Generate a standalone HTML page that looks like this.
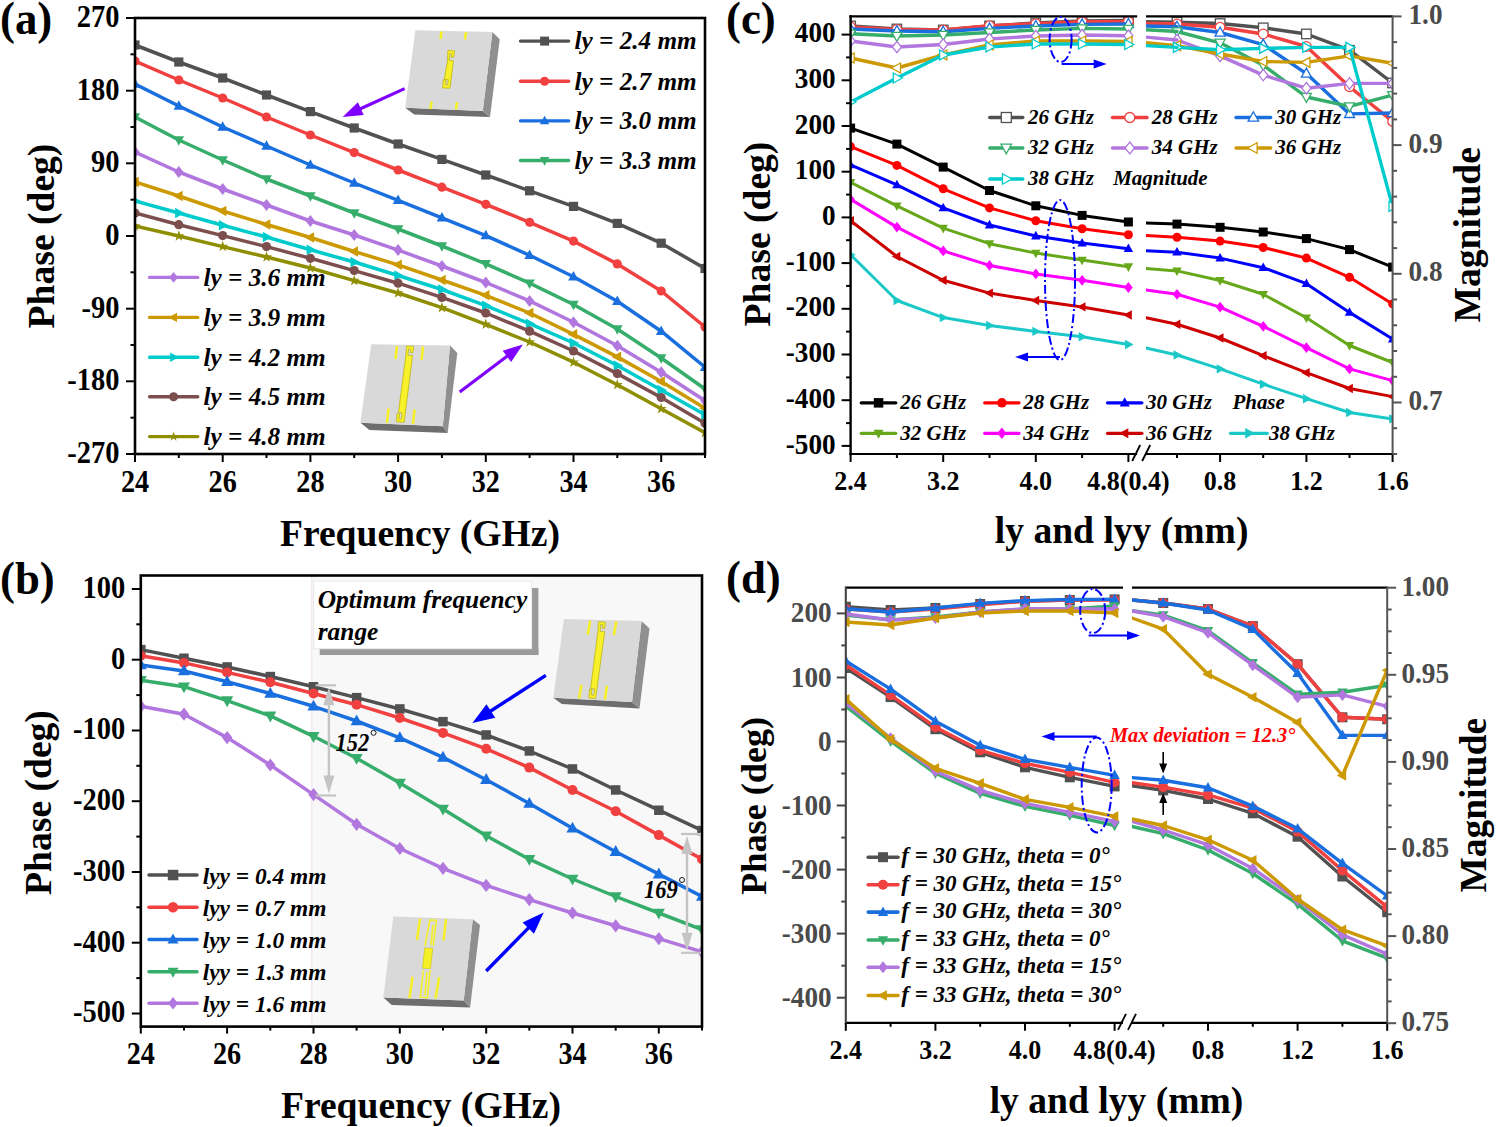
<!DOCTYPE html><html><head><meta charset="utf-8"><style>html,body{margin:0;padding:0;background:#fff;overflow:hidden}svg{display:block}text{font-family:"Liberation Serif",serif}</style></head><body>
<svg width="1496" height="1127" viewBox="0 0 1496 1127">
<rect width="1496" height="1127" fill="#fff"/>
<clipPath id="ca"><rect x="135" y="18" width="570" height="436"/></clipPath><g clip-path="url(#ca)">
<polyline points="135.0,45.0 178.8,62.0 222.7,78.0 266.5,95.0 310.4,111.6 354.2,128.0 398.1,144.0 441.9,159.4 485.8,175.0 529.6,190.8 573.5,206.4 617.3,223.4 661.2,243.2 705.0,268.5" fill="none" stroke="#515151" stroke-width="3.5" stroke-linejoin="round" stroke-linecap="round" />
<rect x="130.4" y="40.4" width="9.2" height="9.2" fill="#515151" stroke="none"/>
<rect x="174.2" y="57.4" width="9.2" height="9.2" fill="#515151" stroke="none"/>
<rect x="218.1" y="73.4" width="9.2" height="9.2" fill="#515151" stroke="none"/>
<rect x="261.9" y="90.4" width="9.2" height="9.2" fill="#515151" stroke="none"/>
<rect x="305.8" y="107.0" width="9.2" height="9.2" fill="#515151" stroke="none"/>
<rect x="349.6" y="123.4" width="9.2" height="9.2" fill="#515151" stroke="none"/>
<rect x="393.5" y="139.4" width="9.2" height="9.2" fill="#515151" stroke="none"/>
<rect x="437.3" y="154.8" width="9.2" height="9.2" fill="#515151" stroke="none"/>
<rect x="481.2" y="170.4" width="9.2" height="9.2" fill="#515151" stroke="none"/>
<rect x="525.0" y="186.2" width="9.2" height="9.2" fill="#515151" stroke="none"/>
<rect x="568.9" y="201.8" width="9.2" height="9.2" fill="#515151" stroke="none"/>
<rect x="612.7" y="218.8" width="9.2" height="9.2" fill="#515151" stroke="none"/>
<rect x="656.6" y="238.6" width="9.2" height="9.2" fill="#515151" stroke="none"/>
<rect x="700.4" y="263.9" width="9.2" height="9.2" fill="#515151" stroke="none"/>
<polyline points="135.0,61.0 178.8,80.0 222.7,98.0 266.5,117.0 310.4,135.0 354.2,152.6 398.1,170.0 441.9,187.2 485.8,204.3 529.6,222.3 573.5,241.1 617.3,263.9 661.2,291.0 705.0,327.0" fill="none" stroke="#F14040" stroke-width="3.5" stroke-linejoin="round" stroke-linecap="round" />
<circle cx="135.0" cy="61.0" r="4.6" fill="#F14040" stroke="none"/>
<circle cx="178.8" cy="80.0" r="4.6" fill="#F14040" stroke="none"/>
<circle cx="222.7" cy="98.0" r="4.6" fill="#F14040" stroke="none"/>
<circle cx="266.5" cy="117.0" r="4.6" fill="#F14040" stroke="none"/>
<circle cx="310.4" cy="135.0" r="4.6" fill="#F14040" stroke="none"/>
<circle cx="354.2" cy="152.6" r="4.6" fill="#F14040" stroke="none"/>
<circle cx="398.1" cy="170.0" r="4.6" fill="#F14040" stroke="none"/>
<circle cx="441.9" cy="187.2" r="4.6" fill="#F14040" stroke="none"/>
<circle cx="485.8" cy="204.3" r="4.6" fill="#F14040" stroke="none"/>
<circle cx="529.6" cy="222.3" r="4.6" fill="#F14040" stroke="none"/>
<circle cx="573.5" cy="241.1" r="4.6" fill="#F14040" stroke="none"/>
<circle cx="617.3" cy="263.9" r="4.6" fill="#F14040" stroke="none"/>
<circle cx="661.2" cy="291.0" r="4.6" fill="#F14040" stroke="none"/>
<circle cx="705.0" cy="327.0" r="4.6" fill="#F14040" stroke="none"/>
<polyline points="135.0,84.0 178.8,106.0 222.7,127.0 266.5,146.0 310.4,165.0 354.2,183.0 398.1,200.3 441.9,217.8 485.8,235.6 529.6,255.3 573.5,276.7 617.3,301.3 661.2,331.2 705.0,367.2" fill="none" stroke="#1A6FDF" stroke-width="3.5" stroke-linejoin="round" stroke-linecap="round" />
<polygon points="135.0,78.2 140.2,87.8 129.8,87.8" fill="#1A6FDF" stroke="none"/>
<polygon points="178.8,100.2 184.1,109.8 173.6,109.8" fill="#1A6FDF" stroke="none"/>
<polygon points="222.7,121.2 227.9,130.8 217.4,130.8" fill="#1A6FDF" stroke="none"/>
<polygon points="266.5,140.2 271.8,149.8 261.3,149.8" fill="#1A6FDF" stroke="none"/>
<polygon points="310.4,159.2 315.6,168.8 305.1,168.8" fill="#1A6FDF" stroke="none"/>
<polygon points="354.2,177.2 359.5,186.8 349.0,186.8" fill="#1A6FDF" stroke="none"/>
<polygon points="398.1,194.6 403.3,204.1 392.8,204.1" fill="#1A6FDF" stroke="none"/>
<polygon points="441.9,212.1 447.2,221.6 436.7,221.6" fill="#1A6FDF" stroke="none"/>
<polygon points="485.8,229.8 491.0,239.3 480.5,239.3" fill="#1A6FDF" stroke="none"/>
<polygon points="529.6,249.6 534.9,259.1 524.4,259.1" fill="#1A6FDF" stroke="none"/>
<polygon points="573.5,270.9 578.7,280.4 568.2,280.4" fill="#1A6FDF" stroke="none"/>
<polygon points="617.3,295.6 622.6,305.1 612.1,305.1" fill="#1A6FDF" stroke="none"/>
<polygon points="661.2,325.4 666.4,334.9 655.9,334.9" fill="#1A6FDF" stroke="none"/>
<polygon points="705.0,361.4 710.2,370.9 699.8,370.9" fill="#1A6FDF" stroke="none"/>
<polyline points="135.0,117.0 178.8,140.0 222.7,160.0 266.5,179.0 310.4,196.0 354.2,213.0 398.1,229.0 441.9,246.0 485.8,263.9 529.6,283.1 573.5,304.5 617.3,329.0 661.2,358.0 705.0,389.0" fill="none" stroke="#37AD6B" stroke-width="3.5" stroke-linejoin="round" stroke-linecap="round" />
<polygon points="135.0,122.8 140.2,113.2 129.8,113.2" fill="#37AD6B" stroke="none"/>
<polygon points="178.8,145.8 184.1,136.2 173.6,136.2" fill="#37AD6B" stroke="none"/>
<polygon points="222.7,165.8 227.9,156.2 217.4,156.2" fill="#37AD6B" stroke="none"/>
<polygon points="266.5,184.8 271.8,175.2 261.3,175.2" fill="#37AD6B" stroke="none"/>
<polygon points="310.4,201.8 315.6,192.2 305.1,192.2" fill="#37AD6B" stroke="none"/>
<polygon points="354.2,218.8 359.5,209.2 349.0,209.2" fill="#37AD6B" stroke="none"/>
<polygon points="398.1,234.8 403.3,225.2 392.8,225.2" fill="#37AD6B" stroke="none"/>
<polygon points="441.9,251.8 447.2,242.2 436.7,242.2" fill="#37AD6B" stroke="none"/>
<polygon points="485.8,269.6 491.0,260.1 480.5,260.1" fill="#37AD6B" stroke="none"/>
<polygon points="529.6,288.9 534.9,279.4 524.4,279.4" fill="#37AD6B" stroke="none"/>
<polygon points="573.5,310.2 578.7,300.8 568.2,300.8" fill="#37AD6B" stroke="none"/>
<polygon points="617.3,334.8 622.6,325.2 612.1,325.2" fill="#37AD6B" stroke="none"/>
<polygon points="661.2,363.8 666.4,354.2 655.9,354.2" fill="#37AD6B" stroke="none"/>
<polygon points="705.0,394.8 710.2,385.2 699.8,385.2" fill="#37AD6B" stroke="none"/>
<polyline points="135.0,152.0 178.8,172.0 222.7,189.0 266.5,205.0 310.4,221.0 354.2,235.0 398.1,250.1 441.9,266.0 485.8,282.5 529.6,300.9 573.5,322.2 617.3,345.8 661.2,372.3 705.0,400.7" fill="none" stroke="#B177DE" stroke-width="3.5" stroke-linejoin="round" stroke-linecap="round" />
<polygon points="135.0,146.0 139.8,152.0 135.0,158.0 130.2,152.0" fill="#B177DE" stroke="none"/>
<polygon points="178.8,166.0 183.6,172.0 178.8,178.0 174.1,172.0" fill="#B177DE" stroke="none"/>
<polygon points="222.7,183.0 227.4,189.0 222.7,195.0 217.9,189.0" fill="#B177DE" stroke="none"/>
<polygon points="266.5,199.0 271.3,205.0 266.5,211.0 261.8,205.0" fill="#B177DE" stroke="none"/>
<polygon points="310.4,215.0 315.1,221.0 310.4,227.0 305.6,221.0" fill="#B177DE" stroke="none"/>
<polygon points="354.2,229.0 359.0,235.0 354.2,241.0 349.5,235.0" fill="#B177DE" stroke="none"/>
<polygon points="398.1,244.1 402.8,250.1 398.1,256.1 393.3,250.1" fill="#B177DE" stroke="none"/>
<polygon points="441.9,260.0 446.7,266.0 441.9,272.0 437.2,266.0" fill="#B177DE" stroke="none"/>
<polygon points="485.8,276.5 490.5,282.5 485.8,288.5 481.0,282.5" fill="#B177DE" stroke="none"/>
<polygon points="529.6,294.9 534.4,300.9 529.6,306.9 524.9,300.9" fill="#B177DE" stroke="none"/>
<polygon points="573.5,316.2 578.2,322.2 573.5,328.2 568.7,322.2" fill="#B177DE" stroke="none"/>
<polygon points="617.3,339.8 622.1,345.8 617.3,351.8 612.6,345.8" fill="#B177DE" stroke="none"/>
<polygon points="661.2,366.3 665.9,372.3 661.2,378.3 656.4,372.3" fill="#B177DE" stroke="none"/>
<polygon points="705.0,394.7 709.8,400.7 705.0,406.7 700.2,400.7" fill="#B177DE" stroke="none"/>
<polyline points="135.0,182.0 178.8,196.0 222.7,211.0 266.5,224.5 310.4,237.5 354.2,251.5 398.1,264.8 441.9,280.0 485.8,295.3 529.6,313.0 573.5,334.4 617.3,356.9 661.2,381.5 705.0,408.2" fill="none" stroke="#CC9900" stroke-width="3.5" stroke-linejoin="round" stroke-linecap="round" />
<polygon points="129.2,182.0 138.8,176.8 138.8,187.2" fill="#CC9900" stroke="none"/>
<polygon points="173.1,196.0 182.6,190.8 182.6,201.2" fill="#CC9900" stroke="none"/>
<polygon points="216.9,211.0 226.4,205.8 226.4,216.2" fill="#CC9900" stroke="none"/>
<polygon points="260.8,224.5 270.3,219.2 270.3,229.8" fill="#CC9900" stroke="none"/>
<polygon points="304.6,237.5 314.1,232.2 314.1,242.8" fill="#CC9900" stroke="none"/>
<polygon points="348.5,251.5 358.0,246.2 358.0,256.8" fill="#CC9900" stroke="none"/>
<polygon points="392.3,264.8 401.8,259.6 401.8,270.1" fill="#CC9900" stroke="none"/>
<polygon points="436.2,280.0 445.7,274.8 445.7,285.2" fill="#CC9900" stroke="none"/>
<polygon points="480.0,295.3 489.5,290.1 489.5,300.6" fill="#CC9900" stroke="none"/>
<polygon points="523.9,313.0 533.4,307.8 533.4,318.2" fill="#CC9900" stroke="none"/>
<polygon points="567.7,334.4 577.2,329.1 577.2,339.6" fill="#CC9900" stroke="none"/>
<polygon points="611.6,356.9 621.1,351.6 621.1,362.1" fill="#CC9900" stroke="none"/>
<polygon points="655.4,381.5 664.9,376.2 664.9,386.8" fill="#CC9900" stroke="none"/>
<polygon points="699.2,408.2 708.8,402.9 708.8,413.4" fill="#CC9900" stroke="none"/>
<polyline points="135.0,201.0 178.8,213.0 222.7,225.3 266.5,237.0 310.4,249.8 354.2,262.0 398.1,275.5 441.9,289.5 485.8,305.6 529.6,323.7 573.5,343.0 617.3,365.5 661.2,390.0 705.0,414.7" fill="none" stroke="#00CBCC" stroke-width="3.5" stroke-linejoin="round" stroke-linecap="round" />
<polygon points="140.8,201.0 131.2,195.8 131.2,206.2" fill="#00CBCC" stroke="none"/>
<polygon points="184.6,213.0 175.1,207.8 175.1,218.2" fill="#00CBCC" stroke="none"/>
<polygon points="228.4,225.3 218.9,220.1 218.9,230.6" fill="#00CBCC" stroke="none"/>
<polygon points="272.3,237.0 262.8,231.8 262.8,242.2" fill="#00CBCC" stroke="none"/>
<polygon points="316.1,249.8 306.6,244.6 306.6,255.1" fill="#00CBCC" stroke="none"/>
<polygon points="360.0,262.0 350.5,256.8 350.5,267.2" fill="#00CBCC" stroke="none"/>
<polygon points="403.8,275.5 394.3,270.2 394.3,280.8" fill="#00CBCC" stroke="none"/>
<polygon points="447.7,289.5 438.2,284.2 438.2,294.8" fill="#00CBCC" stroke="none"/>
<polygon points="491.5,305.6 482.0,300.4 482.0,310.9" fill="#00CBCC" stroke="none"/>
<polygon points="535.4,323.7 525.9,318.4 525.9,328.9" fill="#00CBCC" stroke="none"/>
<polygon points="579.2,343.0 569.7,337.8 569.7,348.2" fill="#00CBCC" stroke="none"/>
<polygon points="623.1,365.5 613.6,360.2 613.6,370.8" fill="#00CBCC" stroke="none"/>
<polygon points="666.9,390.0 657.4,384.8 657.4,395.2" fill="#00CBCC" stroke="none"/>
<polygon points="710.8,414.7 701.2,409.4 701.2,419.9" fill="#00CBCC" stroke="none"/>
<polyline points="135.0,213.0 178.8,224.7 222.7,235.6 266.5,246.6 310.4,258.3 354.2,270.6 398.1,283.2 441.9,297.4 485.8,313.0 529.6,331.2 573.5,351.0 617.3,373.6 661.2,397.5 705.0,423.2" fill="none" stroke="#7D4E4E" stroke-width="3.5" stroke-linejoin="round" stroke-linecap="round" />
<circle cx="135.0" cy="213.0" r="4.6" fill="#7D4E4E" stroke="none"/>
<circle cx="178.8" cy="224.7" r="4.6" fill="#7D4E4E" stroke="none"/>
<circle cx="222.7" cy="235.6" r="4.6" fill="#7D4E4E" stroke="none"/>
<circle cx="266.5" cy="246.6" r="4.6" fill="#7D4E4E" stroke="none"/>
<circle cx="310.4" cy="258.3" r="4.6" fill="#7D4E4E" stroke="none"/>
<circle cx="354.2" cy="270.6" r="4.6" fill="#7D4E4E" stroke="none"/>
<circle cx="398.1" cy="283.2" r="4.6" fill="#7D4E4E" stroke="none"/>
<circle cx="441.9" cy="297.4" r="4.6" fill="#7D4E4E" stroke="none"/>
<circle cx="485.8" cy="313.0" r="4.6" fill="#7D4E4E" stroke="none"/>
<circle cx="529.6" cy="331.2" r="4.6" fill="#7D4E4E" stroke="none"/>
<circle cx="573.5" cy="351.0" r="4.6" fill="#7D4E4E" stroke="none"/>
<circle cx="617.3" cy="373.6" r="4.6" fill="#7D4E4E" stroke="none"/>
<circle cx="661.2" cy="397.5" r="4.6" fill="#7D4E4E" stroke="none"/>
<circle cx="705.0" cy="423.2" r="4.6" fill="#7D4E4E" stroke="none"/>
<polyline points="135.0,226.0 178.8,236.0 222.7,246.6 266.5,257.0 310.4,268.0 354.2,280.6 398.1,293.0 441.9,307.7 485.8,324.4 529.6,342.0 573.5,362.2 617.3,384.7 661.2,408.7 705.0,432.8" fill="none" stroke="#8E8E00" stroke-width="3.5" stroke-linejoin="round" stroke-linecap="round" />
<polygon points="135.0,220.2 136.3,224.2 140.5,224.2 137.1,226.7 138.4,230.7 135.0,228.2 131.6,230.7 132.9,226.7 129.5,224.2 133.7,224.2" fill="#8E8E00" stroke="none"/>
<polygon points="178.8,230.2 180.2,234.2 184.3,234.2 181.0,236.7 182.2,240.7 178.8,238.2 175.5,240.7 176.7,236.7 173.4,234.2 177.5,234.2" fill="#8E8E00" stroke="none"/>
<polygon points="222.7,240.8 224.0,244.8 228.2,244.8 224.8,247.3 226.1,251.3 222.7,248.8 219.3,251.3 220.6,247.3 217.2,244.8 221.4,244.8" fill="#8E8E00" stroke="none"/>
<polygon points="266.5,251.2 267.9,255.2 272.0,255.2 268.7,257.7 269.9,261.7 266.5,259.2 263.2,261.7 264.4,257.7 261.1,255.2 265.2,255.2" fill="#8E8E00" stroke="none"/>
<polygon points="310.4,262.2 311.7,266.2 315.9,266.2 312.5,268.7 313.8,272.7 310.4,270.2 307.0,272.7 308.2,268.7 304.9,266.2 309.1,266.2" fill="#8E8E00" stroke="none"/>
<polygon points="354.2,274.9 355.6,278.8 359.7,278.8 356.4,281.3 357.6,285.3 354.2,282.9 350.9,285.3 352.1,281.3 348.8,278.8 352.9,278.8" fill="#8E8E00" stroke="none"/>
<polygon points="398.1,287.2 399.4,291.2 403.5,291.2 400.2,293.7 401.5,297.7 398.1,295.2 394.7,297.7 395.9,293.7 392.6,291.2 396.8,291.2" fill="#8E8E00" stroke="none"/>
<polygon points="441.9,301.9 443.2,305.9 447.4,305.9 444.1,308.4 445.3,312.4 441.9,309.9 438.5,312.4 439.8,308.4 436.5,305.9 440.6,305.9" fill="#8E8E00" stroke="none"/>
<polygon points="485.8,318.6 487.1,322.6 491.2,322.6 487.9,325.1 489.1,329.1 485.8,326.6 482.4,329.1 483.6,325.1 480.3,322.6 484.4,322.6" fill="#8E8E00" stroke="none"/>
<polygon points="529.6,336.2 530.9,340.2 535.1,340.2 531.8,342.7 533.0,346.7 529.6,344.2 526.2,346.7 527.5,342.7 524.1,340.2 528.3,340.2" fill="#8E8E00" stroke="none"/>
<polygon points="573.5,356.4 574.8,360.4 578.9,360.4 575.6,362.9 576.8,366.9 573.5,364.4 570.1,366.9 571.3,362.9 568.0,360.4 572.1,360.4" fill="#8E8E00" stroke="none"/>
<polygon points="617.3,378.9 618.6,382.9 622.8,382.9 619.4,385.4 620.7,389.4 617.3,386.9 613.9,389.4 615.2,385.4 611.8,382.9 616.0,382.9" fill="#8E8E00" stroke="none"/>
<polygon points="661.2,402.9 662.5,406.9 666.6,406.9 663.3,409.4 664.5,413.4 661.2,410.9 657.8,413.4 659.0,409.4 655.7,406.9 659.8,406.9" fill="#8E8E00" stroke="none"/>
<polygon points="705.0,427.1 706.3,431.0 710.5,431.0 707.1,433.5 708.4,437.5 705.0,435.1 701.6,437.5 702.9,433.5 699.5,431.0 703.7,431.0" fill="#8E8E00" stroke="none"/>
</g>
<rect x="135" y="18" width="570" height="436" fill="none" stroke="#000" stroke-width="2.6"/>
<line x1="135.0" y1="454.0" x2="135.0" y2="462.0" stroke="#000" stroke-width="2" />
<text transform="translate(135.0,492.0) scale(1,1.09)" font-size="28.2" text-anchor="middle" font-weight="bold" font-style="normal" fill="#000" >24</text>
<line x1="178.8" y1="454.0" x2="178.8" y2="458.0" stroke="#000" stroke-width="2" />
<line x1="222.7" y1="454.0" x2="222.7" y2="462.0" stroke="#000" stroke-width="2" />
<text transform="translate(222.7,492.0) scale(1,1.09)" font-size="28.2" text-anchor="middle" font-weight="bold" font-style="normal" fill="#000" >26</text>
<line x1="266.5" y1="454.0" x2="266.5" y2="458.0" stroke="#000" stroke-width="2" />
<line x1="310.4" y1="454.0" x2="310.4" y2="462.0" stroke="#000" stroke-width="2" />
<text transform="translate(310.4,492.0) scale(1,1.09)" font-size="28.2" text-anchor="middle" font-weight="bold" font-style="normal" fill="#000" >28</text>
<line x1="354.2" y1="454.0" x2="354.2" y2="458.0" stroke="#000" stroke-width="2" />
<line x1="398.1" y1="454.0" x2="398.1" y2="462.0" stroke="#000" stroke-width="2" />
<text transform="translate(398.1,492.0) scale(1,1.09)" font-size="28.2" text-anchor="middle" font-weight="bold" font-style="normal" fill="#000" >30</text>
<line x1="441.9" y1="454.0" x2="441.9" y2="458.0" stroke="#000" stroke-width="2" />
<line x1="485.8" y1="454.0" x2="485.8" y2="462.0" stroke="#000" stroke-width="2" />
<text transform="translate(485.8,492.0) scale(1,1.09)" font-size="28.2" text-anchor="middle" font-weight="bold" font-style="normal" fill="#000" >32</text>
<line x1="529.6" y1="454.0" x2="529.6" y2="458.0" stroke="#000" stroke-width="2" />
<line x1="573.5" y1="454.0" x2="573.5" y2="462.0" stroke="#000" stroke-width="2" />
<text transform="translate(573.5,492.0) scale(1,1.09)" font-size="28.2" text-anchor="middle" font-weight="bold" font-style="normal" fill="#000" >34</text>
<line x1="617.3" y1="454.0" x2="617.3" y2="458.0" stroke="#000" stroke-width="2" />
<line x1="661.2" y1="454.0" x2="661.2" y2="462.0" stroke="#000" stroke-width="2" />
<text transform="translate(661.2,492.0) scale(1,1.09)" font-size="28.2" text-anchor="middle" font-weight="bold" font-style="normal" fill="#000" >36</text>
<line x1="705.0" y1="454.0" x2="705.0" y2="458.0" stroke="#000" stroke-width="2" />
<line x1="126.0" y1="18.0" x2="135.0" y2="18.0" stroke="#000" stroke-width="2" />
<text transform="translate(119.5,26.8) scale(1,1.09)" font-size="28.5" text-anchor="end" font-weight="bold" font-style="normal" fill="#000" >270</text>
<line x1="130.5" y1="54.3" x2="135.0" y2="54.3" stroke="#000" stroke-width="2" />
<line x1="126.0" y1="90.7" x2="135.0" y2="90.7" stroke="#000" stroke-width="2" />
<text transform="translate(119.5,99.5) scale(1,1.09)" font-size="28.5" text-anchor="end" font-weight="bold" font-style="normal" fill="#000" >180</text>
<line x1="130.5" y1="127.0" x2="135.0" y2="127.0" stroke="#000" stroke-width="2" />
<line x1="126.0" y1="163.3" x2="135.0" y2="163.3" stroke="#000" stroke-width="2" />
<text transform="translate(119.5,172.1) scale(1,1.09)" font-size="28.5" text-anchor="end" font-weight="bold" font-style="normal" fill="#000" >90</text>
<line x1="130.5" y1="199.7" x2="135.0" y2="199.7" stroke="#000" stroke-width="2" />
<line x1="126.0" y1="236.0" x2="135.0" y2="236.0" stroke="#000" stroke-width="2" />
<text transform="translate(119.5,244.8) scale(1,1.09)" font-size="28.5" text-anchor="end" font-weight="bold" font-style="normal" fill="#000" >0</text>
<line x1="130.5" y1="272.3" x2="135.0" y2="272.3" stroke="#000" stroke-width="2" />
<line x1="126.0" y1="308.7" x2="135.0" y2="308.7" stroke="#000" stroke-width="2" />
<text transform="translate(119.5,317.5) scale(1,1.09)" font-size="28.5" text-anchor="end" font-weight="bold" font-style="normal" fill="#000" >-90</text>
<line x1="130.5" y1="345.0" x2="135.0" y2="345.0" stroke="#000" stroke-width="2" />
<line x1="126.0" y1="381.3" x2="135.0" y2="381.3" stroke="#000" stroke-width="2" />
<text transform="translate(119.5,390.1) scale(1,1.09)" font-size="28.5" text-anchor="end" font-weight="bold" font-style="normal" fill="#000" >-180</text>
<line x1="130.5" y1="417.7" x2="135.0" y2="417.7" stroke="#000" stroke-width="2" />
<line x1="126.0" y1="454.0" x2="135.0" y2="454.0" stroke="#000" stroke-width="2" />
<text transform="translate(119.5,462.8) scale(1,1.09)" font-size="28.5" text-anchor="end" font-weight="bold" font-style="normal" fill="#000" >-270</text>
<text transform="translate(53.5,236.0) rotate(-90) scale(1,1.0)" font-size="37.6" text-anchor="middle" font-weight="bold" font-style="normal" fill="#000" >Phase (deg)</text>
<text transform="translate(420.0,546.0) scale(1,1.0)" font-size="37.6" text-anchor="middle" font-weight="bold" font-style="normal" fill="#000" >Frequency (GHz)</text>
<text transform="translate(0.0,34.0) scale(1,1.04)" font-size="44.8" text-anchor="start" font-weight="bold" font-style="normal" fill="#000" >(a)</text>
<line x1="520.5" y1="41.1" x2="568.6" y2="41.1" stroke="#515151" stroke-width="3.4" stroke-linecap="round"/>
<rect x="540.1" y="36.6" width="9.0" height="9.0" fill="#515151" stroke="none"/>
<text transform="translate(574.5,49.4) scale(1,1.03)" font-size="25.2" text-anchor="start" font-weight="bold" font-style="italic" fill="#000" >ly = 2.4 mm</text>
<line x1="520.5" y1="81.3" x2="568.6" y2="81.3" stroke="#F14040" stroke-width="3.4" stroke-linecap="round"/>
<circle cx="544.6" cy="81.3" r="4.5" fill="#F14040" stroke="none"/>
<text transform="translate(574.5,89.6) scale(1,1.03)" font-size="25.2" text-anchor="start" font-weight="bold" font-style="italic" fill="#000" >ly = 2.7 mm</text>
<line x1="520.5" y1="120.9" x2="568.6" y2="120.9" stroke="#1A6FDF" stroke-width="3.4" stroke-linecap="round"/>
<polygon points="544.6,115.7 549.3,124.3 539.9,124.3" fill="#1A6FDF" stroke="none"/>
<text transform="translate(574.5,129.2) scale(1,1.03)" font-size="25.2" text-anchor="start" font-weight="bold" font-style="italic" fill="#000" >ly = 3.0 mm</text>
<line x1="520.5" y1="160.5" x2="568.6" y2="160.5" stroke="#37AD6B" stroke-width="3.4" stroke-linecap="round"/>
<polygon points="544.6,165.7 549.3,157.1 539.9,157.1" fill="#37AD6B" stroke="none"/>
<text transform="translate(574.5,168.8) scale(1,1.03)" font-size="25.2" text-anchor="start" font-weight="bold" font-style="italic" fill="#000" >ly = 3.3 mm</text>
<line x1="149.6" y1="277.4" x2="197.7" y2="277.4" stroke="#B177DE" stroke-width="3.4" stroke-linecap="round"/>
<polygon points="173.6,272.0 177.9,277.4 173.6,282.8 169.3,277.4" fill="#B177DE" stroke="none"/>
<text transform="translate(203.5,285.7) scale(1,1.03)" font-size="25.2" text-anchor="start" font-weight="bold" font-style="italic" fill="#000" >ly = 3.6 mm</text>
<line x1="149.6" y1="317.4" x2="197.7" y2="317.4" stroke="#CC9900" stroke-width="3.4" stroke-linecap="round"/>
<polygon points="168.4,317.4 177.0,312.7 177.0,322.1" fill="#CC9900" stroke="none"/>
<text transform="translate(203.5,325.7) scale(1,1.03)" font-size="25.2" text-anchor="start" font-weight="bold" font-style="italic" fill="#000" >ly = 3.9 mm</text>
<line x1="149.6" y1="357.2" x2="197.7" y2="357.2" stroke="#00CBCC" stroke-width="3.4" stroke-linecap="round"/>
<polygon points="178.8,357.2 170.2,352.5 170.2,361.9" fill="#00CBCC" stroke="none"/>
<text transform="translate(203.5,365.5) scale(1,1.03)" font-size="25.2" text-anchor="start" font-weight="bold" font-style="italic" fill="#000" >ly = 4.2 mm</text>
<line x1="149.6" y1="396.8" x2="197.7" y2="396.8" stroke="#7D4E4E" stroke-width="3.4" stroke-linecap="round"/>
<circle cx="173.6" cy="396.8" r="4.5" fill="#7D4E4E" stroke="none"/>
<text transform="translate(203.5,405.1) scale(1,1.03)" font-size="25.2" text-anchor="start" font-weight="bold" font-style="italic" fill="#000" >ly = 4.5 mm</text>
<line x1="149.6" y1="436.6" x2="197.7" y2="436.6" stroke="#8E8E00" stroke-width="3.4" stroke-linecap="round"/>
<polygon points="173.6,431.4 174.8,435.0 178.5,435.0 175.5,437.2 176.6,440.8 173.6,438.6 170.6,440.8 171.7,437.2 168.7,435.0 172.4,435.0" fill="#8E8E00" stroke="none"/>
<text transform="translate(203.5,444.9) scale(1,1.03)" font-size="25.2" text-anchor="start" font-weight="bold" font-style="italic" fill="#000" >ly = 4.8 mm</text>
<polygon points="405.2,107.8 414.2,114.5 490.0,116.9 482.8,110.9" fill="#6e6e6e"/>
<polygon points="492.4,32.0 499.7,39.3 490.0,116.9 482.8,110.9" fill="#8f8f8f"/>
<polygon points="415.4,30.2 492.4,32.0 482.8,110.9 405.2,107.8" fill="#d9d9d9"/>
<line x1="441.5" y1="31.5" x2="440.5" y2="39" stroke="#f5f02a" stroke-width="2.6" stroke-linecap="butt"/>
<line x1="466" y1="32" x2="465" y2="39.5" stroke="#f5f02a" stroke-width="2.6" stroke-linecap="butt"/>
<line x1="431.5" y1="101.5" x2="430.5" y2="109" stroke="#f5f02a" stroke-width="2.6" stroke-linecap="butt"/>
<line x1="457" y1="102" x2="456" y2="109.5" stroke="#f5f02a" stroke-width="2.6" stroke-linecap="butt"/>
<path d="M447.85,50.39 L454.61,50.92 L453.87,57.16 L451.20,57.16 L451.63,53.75 L449.82,53.75 L449.29,60.51 L453.44,60.78 L449.98,88.22 L442.68,87.95 L443.32,79.69 L445.98,79.96 L445.56,84.75 L447.58,85.02 L448.22,79.53 L444.28,79.32 L447.58,60.25 Z" fill="#f7f02a" stroke="#b9b000" stroke-width="0.7"/>
<line x1="404.6" y1="88.6" x2="359.9" y2="109.0" stroke="#8000ff" stroke-width="3.2" />
<polygon points="342.6,116.9 357.9,102.2 363.7,115.0" fill="#8000ff"/>
<polygon points="360.4,422.7 369.4,429.9 447.7,432.9 442.8,426.3" fill="#6e6e6e"/>
<polygon points="450.0,345.6 457.3,352.9 447.7,432.9 442.8,426.3" fill="#8f8f8f"/>
<polygon points="371.2,344.2 450.0,345.6 442.8,426.3 360.4,422.7" fill="#d9d9d9"/>
<line x1="397" y1="346" x2="395.5" y2="359" stroke="#f5f02a" stroke-width="2.6" stroke-linecap="butt"/>
<line x1="423" y1="346.5" x2="421.5" y2="360" stroke="#f5f02a" stroke-width="2.6" stroke-linecap="butt"/>
<line x1="388.5" y1="408.5" x2="387" y2="423" stroke="#f5f02a" stroke-width="2.6" stroke-linecap="butt"/>
<line x1="414.5" y1="409.5" x2="413" y2="424" stroke="#f5f02a" stroke-width="2.6" stroke-linecap="butt"/>
<path d="M406.55,345.99 L413.73,346.38 L412.93,352.77 L410.38,352.61 L410.86,349.18 L408.62,348.94 L407.98,355.32 L412.53,355.56 L404.15,422.20 L396.57,421.80 L396.97,413.82 L399.53,414.06 L399.05,419.01 L401.44,419.17 L402.08,412.79 L398.41,412.63 L405.91,355.16 Z" fill="#f7f02a" stroke="#b9b000" stroke-width="0.7"/>
<line x1="459.7" y1="392.0" x2="507.7" y2="355.8" stroke="#8000ff" stroke-width="3.2" />
<polygon points="522.9,344.4 511.1,362.0 502.7,350.8" fill="#8000ff"/>
<rect x="311.8" y="575.5" width="390.2" height="451.0999999999999" fill="#f8f8f8"/>
<line x1="311.8" y1="575.5" x2="311.8" y2="1026.6" stroke="#f4e4f4" stroke-width="1.2" />
<rect x="319.7" y="648.6" width="218.7" height="6.4" fill="#9a9a9a"/>
<rect x="531.6" y="588" width="6.8" height="67" fill="#9a9a9a"/>
<rect x="313.6" y="581.1" width="218" height="67.6" fill="#fff" stroke="#e8e8e8" stroke-width="1"/>
<text transform="translate(317.7,607.7) scale(1,1.0)" font-size="25.4" text-anchor="start" font-weight="bold" font-style="italic" fill="#000" >Optimum frequency</text>
<text transform="translate(317.7,640.4) scale(1,1.0)" font-size="25.4" text-anchor="start" font-weight="bold" font-style="italic" fill="#000" >range</text>
<clipPath id="cb"><rect x="140.8" y="575.5" width="561.2" height="451.0999999999999"/></clipPath><g clip-path="url(#cb)">
<polyline points="140.8,649.6 184.0,658.2 227.1,667.0 270.3,676.5 313.5,686.7 356.6,697.6 399.8,709.0 443.0,721.6 486.2,735.0 529.3,751.0 572.5,769.0 615.7,790.0 658.8,810.2 702.0,830.5" fill="none" stroke="#515151" stroke-width="3.5" stroke-linejoin="round" stroke-linecap="round" />
<rect x="136.1" y="644.9" width="9.5" height="9.5" fill="#515151" stroke="none"/>
<rect x="179.2" y="653.5" width="9.5" height="9.5" fill="#515151" stroke="none"/>
<rect x="222.4" y="662.2" width="9.5" height="9.5" fill="#515151" stroke="none"/>
<rect x="265.6" y="671.8" width="9.5" height="9.5" fill="#515151" stroke="none"/>
<rect x="308.7" y="682.0" width="9.5" height="9.5" fill="#515151" stroke="none"/>
<rect x="351.9" y="692.9" width="9.5" height="9.5" fill="#515151" stroke="none"/>
<rect x="395.1" y="704.2" width="9.5" height="9.5" fill="#515151" stroke="none"/>
<rect x="438.2" y="716.9" width="9.5" height="9.5" fill="#515151" stroke="none"/>
<rect x="481.4" y="730.2" width="9.5" height="9.5" fill="#515151" stroke="none"/>
<rect x="524.6" y="746.2" width="9.5" height="9.5" fill="#515151" stroke="none"/>
<rect x="567.7" y="764.2" width="9.5" height="9.5" fill="#515151" stroke="none"/>
<rect x="610.9" y="785.2" width="9.5" height="9.5" fill="#515151" stroke="none"/>
<rect x="654.1" y="805.5" width="9.5" height="9.5" fill="#515151" stroke="none"/>
<rect x="697.2" y="825.8" width="9.5" height="9.5" fill="#515151" stroke="none"/>
<polyline points="140.8,655.7 184.0,662.9 227.1,672.4 270.3,682.2 313.5,693.5 356.6,704.7 399.8,718.0 443.0,732.9 486.2,748.8 529.3,767.6 572.5,790.0 615.7,811.3 658.8,835.1 702.0,859.2" fill="none" stroke="#F14040" stroke-width="3.5" stroke-linejoin="round" stroke-linecap="round" />
<circle cx="140.8" cy="655.7" r="5.0" fill="#F14040" stroke="none"/>
<circle cx="184.0" cy="662.9" r="5.0" fill="#F14040" stroke="none"/>
<circle cx="227.1" cy="672.4" r="5.0" fill="#F14040" stroke="none"/>
<circle cx="270.3" cy="682.2" r="5.0" fill="#F14040" stroke="none"/>
<circle cx="313.5" cy="693.5" r="5.0" fill="#F14040" stroke="none"/>
<circle cx="356.6" cy="704.7" r="5.0" fill="#F14040" stroke="none"/>
<circle cx="399.8" cy="718.0" r="5.0" fill="#F14040" stroke="none"/>
<circle cx="443.0" cy="732.9" r="5.0" fill="#F14040" stroke="none"/>
<circle cx="486.2" cy="748.8" r="5.0" fill="#F14040" stroke="none"/>
<circle cx="529.3" cy="767.6" r="5.0" fill="#F14040" stroke="none"/>
<circle cx="572.5" cy="790.0" r="5.0" fill="#F14040" stroke="none"/>
<circle cx="615.7" cy="811.3" r="5.0" fill="#F14040" stroke="none"/>
<circle cx="658.8" cy="835.1" r="5.0" fill="#F14040" stroke="none"/>
<circle cx="702.0" cy="859.2" r="5.0" fill="#F14040" stroke="none"/>
<polyline points="140.8,664.9 184.0,671.0 227.1,681.8 270.3,693.5 313.5,706.3 356.6,721.0 399.8,737.8 443.0,757.4 486.2,779.7 529.3,803.5 572.5,828.3 615.7,851.7 658.8,874.1 702.0,896.5" fill="none" stroke="#1A6FDF" stroke-width="3.5" stroke-linejoin="round" stroke-linecap="round" />
<polygon points="140.8,658.3 146.8,669.2 134.8,669.2" fill="#1A6FDF" stroke="none"/>
<polygon points="184.0,664.4 190.0,675.3 177.9,675.3" fill="#1A6FDF" stroke="none"/>
<polygon points="227.1,675.2 233.2,686.1 221.1,686.1" fill="#1A6FDF" stroke="none"/>
<polygon points="270.3,686.9 276.3,697.8 264.3,697.8" fill="#1A6FDF" stroke="none"/>
<polygon points="313.5,699.7 319.5,710.6 307.4,710.6" fill="#1A6FDF" stroke="none"/>
<polygon points="356.6,714.4 362.7,725.3 350.6,725.3" fill="#1A6FDF" stroke="none"/>
<polygon points="399.8,731.2 405.9,742.1 393.8,742.1" fill="#1A6FDF" stroke="none"/>
<polygon points="443.0,750.8 449.0,761.7 436.9,761.7" fill="#1A6FDF" stroke="none"/>
<polygon points="486.2,773.1 492.2,784.0 480.1,784.0" fill="#1A6FDF" stroke="none"/>
<polygon points="529.3,796.9 535.4,807.8 523.3,807.8" fill="#1A6FDF" stroke="none"/>
<polygon points="572.5,821.7 578.5,832.6 566.5,832.6" fill="#1A6FDF" stroke="none"/>
<polygon points="615.7,845.1 621.7,856.0 609.6,856.0" fill="#1A6FDF" stroke="none"/>
<polygon points="658.8,867.5 664.9,878.4 652.8,878.4" fill="#1A6FDF" stroke="none"/>
<polygon points="702.0,889.9 708.0,900.8 696.0,900.8" fill="#1A6FDF" stroke="none"/>
<polyline points="140.8,680.2 184.0,686.7 227.1,700.6 270.3,715.9 313.5,736.3 356.6,758.2 399.8,783.1 443.0,809.0 486.2,835.8 529.3,859.2 572.5,879.0 615.7,896.5 658.8,913.0 702.0,929.5" fill="none" stroke="#37AD6B" stroke-width="3.5" stroke-linejoin="round" stroke-linecap="round" />
<polygon points="140.8,686.8 146.8,675.9 134.8,675.9" fill="#37AD6B" stroke="none"/>
<polygon points="184.0,693.3 190.0,682.4 177.9,682.4" fill="#37AD6B" stroke="none"/>
<polygon points="227.1,707.2 233.2,696.3 221.1,696.3" fill="#37AD6B" stroke="none"/>
<polygon points="270.3,722.5 276.3,711.6 264.3,711.6" fill="#37AD6B" stroke="none"/>
<polygon points="313.5,742.9 319.5,732.0 307.4,732.0" fill="#37AD6B" stroke="none"/>
<polygon points="356.6,764.8 362.7,753.9 350.6,753.9" fill="#37AD6B" stroke="none"/>
<polygon points="399.8,789.7 405.9,778.8 393.8,778.8" fill="#37AD6B" stroke="none"/>
<polygon points="443.0,815.6 449.0,804.7 436.9,804.7" fill="#37AD6B" stroke="none"/>
<polygon points="486.2,842.4 492.2,831.5 480.1,831.5" fill="#37AD6B" stroke="none"/>
<polygon points="529.3,865.8 535.4,854.9 523.3,854.9" fill="#37AD6B" stroke="none"/>
<polygon points="572.5,885.6 578.5,874.7 566.5,874.7" fill="#37AD6B" stroke="none"/>
<polygon points="615.7,903.1 621.7,892.2 609.6,892.2" fill="#37AD6B" stroke="none"/>
<polygon points="658.8,919.6 664.9,908.7 652.8,908.7" fill="#37AD6B" stroke="none"/>
<polygon points="702.0,936.1 708.0,925.2 696.0,925.2" fill="#37AD6B" stroke="none"/>
<polyline points="140.8,706.3 184.0,714.2 227.1,737.6 270.3,765.0 313.5,794.6 356.6,824.3 399.8,848.5 443.0,868.3 486.2,885.4 529.3,899.6 572.5,913.0 615.7,925.8 658.8,938.6 702.0,951.8" fill="none" stroke="#B177DE" stroke-width="3.5" stroke-linejoin="round" stroke-linecap="round" />
<polygon points="140.8,699.7 146.0,706.3 140.8,712.9 135.6,706.3" fill="#B177DE" stroke="none"/>
<polygon points="184.0,707.6 189.2,714.2 184.0,720.8 178.7,714.2" fill="#B177DE" stroke="none"/>
<polygon points="227.1,731.0 232.4,737.6 227.1,744.2 221.9,737.6" fill="#B177DE" stroke="none"/>
<polygon points="270.3,758.4 275.5,765.0 270.3,771.6 265.1,765.0" fill="#B177DE" stroke="none"/>
<polygon points="313.5,788.0 318.7,794.6 313.5,801.2 308.3,794.6" fill="#B177DE" stroke="none"/>
<polygon points="356.6,817.7 361.9,824.3 356.6,830.9 351.4,824.3" fill="#B177DE" stroke="none"/>
<polygon points="399.8,841.9 405.0,848.5 399.8,855.1 394.6,848.5" fill="#B177DE" stroke="none"/>
<polygon points="443.0,861.7 448.2,868.3 443.0,874.9 437.8,868.3" fill="#B177DE" stroke="none"/>
<polygon points="486.2,878.8 491.4,885.4 486.2,892.0 480.9,885.4" fill="#B177DE" stroke="none"/>
<polygon points="529.3,893.0 534.5,899.6 529.3,906.2 524.1,899.6" fill="#B177DE" stroke="none"/>
<polygon points="572.5,906.4 577.7,913.0 572.5,919.6 567.3,913.0" fill="#B177DE" stroke="none"/>
<polygon points="615.7,919.2 620.9,925.8 615.7,932.4 610.4,925.8" fill="#B177DE" stroke="none"/>
<polygon points="658.8,932.0 664.1,938.6 658.8,945.2 653.6,938.6" fill="#B177DE" stroke="none"/>
<polygon points="702.0,945.2 707.2,951.8 702.0,958.4 696.8,951.8" fill="#B177DE" stroke="none"/>
</g>
<rect x="140.8" y="575.5" width="561.2" height="451.1" fill="none" stroke="#000" stroke-width="2.6"/>
<line x1="140.8" y1="1026.6" x2="140.8" y2="1033.6" stroke="#000" stroke-width="2" />
<text transform="translate(140.8,1064.0) scale(1,1.09)" font-size="28.2" text-anchor="middle" font-weight="bold" font-style="normal" fill="#000" >24</text>
<line x1="184.0" y1="1026.6" x2="184.0" y2="1030.6" stroke="#000" stroke-width="2" />
<line x1="227.1" y1="1026.6" x2="227.1" y2="1033.6" stroke="#000" stroke-width="2" />
<text transform="translate(227.1,1064.0) scale(1,1.09)" font-size="28.2" text-anchor="middle" font-weight="bold" font-style="normal" fill="#000" >26</text>
<line x1="270.3" y1="1026.6" x2="270.3" y2="1030.6" stroke="#000" stroke-width="2" />
<line x1="313.5" y1="1026.6" x2="313.5" y2="1033.6" stroke="#000" stroke-width="2" />
<text transform="translate(313.5,1064.0) scale(1,1.09)" font-size="28.2" text-anchor="middle" font-weight="bold" font-style="normal" fill="#000" >28</text>
<line x1="356.6" y1="1026.6" x2="356.6" y2="1030.6" stroke="#000" stroke-width="2" />
<line x1="399.8" y1="1026.6" x2="399.8" y2="1033.6" stroke="#000" stroke-width="2" />
<text transform="translate(399.8,1064.0) scale(1,1.09)" font-size="28.2" text-anchor="middle" font-weight="bold" font-style="normal" fill="#000" >30</text>
<line x1="443.0" y1="1026.6" x2="443.0" y2="1030.6" stroke="#000" stroke-width="2" />
<line x1="486.2" y1="1026.6" x2="486.2" y2="1033.6" stroke="#000" stroke-width="2" />
<text transform="translate(486.2,1064.0) scale(1,1.09)" font-size="28.2" text-anchor="middle" font-weight="bold" font-style="normal" fill="#000" >32</text>
<line x1="529.3" y1="1026.6" x2="529.3" y2="1030.6" stroke="#000" stroke-width="2" />
<line x1="572.5" y1="1026.6" x2="572.5" y2="1033.6" stroke="#000" stroke-width="2" />
<text transform="translate(572.5,1064.0) scale(1,1.09)" font-size="28.2" text-anchor="middle" font-weight="bold" font-style="normal" fill="#000" >34</text>
<line x1="615.7" y1="1026.6" x2="615.7" y2="1030.6" stroke="#000" stroke-width="2" />
<line x1="658.8" y1="1026.6" x2="658.8" y2="1033.6" stroke="#000" stroke-width="2" />
<text transform="translate(658.8,1064.0) scale(1,1.09)" font-size="28.2" text-anchor="middle" font-weight="bold" font-style="normal" fill="#000" >36</text>
<line x1="702.0" y1="1026.6" x2="702.0" y2="1030.6" stroke="#000" stroke-width="2" />
<line x1="131.8" y1="589.0" x2="140.8" y2="589.0" stroke="#000" stroke-width="2" />
<text transform="translate(125.2,597.8) scale(1,1.09)" font-size="28.5" text-anchor="end" font-weight="bold" font-style="normal" fill="#000" >100</text>
<line x1="136.3" y1="624.3" x2="140.8" y2="624.3" stroke="#000" stroke-width="2" />
<line x1="131.8" y1="659.7" x2="140.8" y2="659.7" stroke="#000" stroke-width="2" />
<text transform="translate(125.2,668.5) scale(1,1.09)" font-size="28.5" text-anchor="end" font-weight="bold" font-style="normal" fill="#000" >0</text>
<line x1="136.3" y1="695.1" x2="140.8" y2="695.1" stroke="#000" stroke-width="2" />
<line x1="131.8" y1="730.5" x2="140.8" y2="730.5" stroke="#000" stroke-width="2" />
<text transform="translate(125.2,739.2) scale(1,1.09)" font-size="28.5" text-anchor="end" font-weight="bold" font-style="normal" fill="#000" >-100</text>
<line x1="136.3" y1="765.8" x2="140.8" y2="765.8" stroke="#000" stroke-width="2" />
<line x1="131.8" y1="801.2" x2="140.8" y2="801.2" stroke="#000" stroke-width="2" />
<text transform="translate(125.2,810.0) scale(1,1.09)" font-size="28.5" text-anchor="end" font-weight="bold" font-style="normal" fill="#000" >-200</text>
<line x1="136.3" y1="836.6" x2="140.8" y2="836.6" stroke="#000" stroke-width="2" />
<line x1="131.8" y1="872.0" x2="140.8" y2="872.0" stroke="#000" stroke-width="2" />
<text transform="translate(125.2,880.8) scale(1,1.09)" font-size="28.5" text-anchor="end" font-weight="bold" font-style="normal" fill="#000" >-300</text>
<line x1="136.3" y1="907.3" x2="140.8" y2="907.3" stroke="#000" stroke-width="2" />
<line x1="131.8" y1="942.7" x2="140.8" y2="942.7" stroke="#000" stroke-width="2" />
<text transform="translate(125.2,951.5) scale(1,1.09)" font-size="28.5" text-anchor="end" font-weight="bold" font-style="normal" fill="#000" >-400</text>
<line x1="136.3" y1="978.1" x2="140.8" y2="978.1" stroke="#000" stroke-width="2" />
<line x1="131.8" y1="1013.5" x2="140.8" y2="1013.5" stroke="#000" stroke-width="2" />
<text transform="translate(125.2,1022.2) scale(1,1.09)" font-size="28.5" text-anchor="end" font-weight="bold" font-style="normal" fill="#000" >-500</text>
<text transform="translate(51.1,802.5) rotate(-90) scale(1,1.0)" font-size="37.6" text-anchor="middle" font-weight="bold" font-style="normal" fill="#000" >Phase (deg)</text>
<text transform="translate(421.0,1117.5) scale(1,1.0)" font-size="37.6" text-anchor="middle" font-weight="bold" font-style="normal" fill="#000" >Frequency (GHz)</text>
<text transform="translate(0.0,594.0) scale(1,1.04)" font-size="44.8" text-anchor="start" font-weight="bold" font-style="normal" fill="#000" >(b)</text>
<line x1="149.0" y1="875.0" x2="197.0" y2="875.0" stroke="#515151" stroke-width="3.5" stroke-linecap="round"/>
<rect x="167.8" y="869.8" width="10.5" height="10.5" fill="#515151" stroke="none"/>
<text transform="translate(202.7,883.6) scale(1,1.03)" font-size="23.4" text-anchor="start" font-weight="bold" font-style="italic" fill="#000" >lyy = 0.4 mm</text>
<line x1="149.0" y1="907.3" x2="197.0" y2="907.3" stroke="#F14040" stroke-width="3.5" stroke-linecap="round"/>
<circle cx="173.0" cy="907.3" r="5.2" fill="#F14040" stroke="none"/>
<text transform="translate(202.7,915.9) scale(1,1.03)" font-size="23.4" text-anchor="start" font-weight="bold" font-style="italic" fill="#000" >lyy = 0.7 mm</text>
<line x1="149.0" y1="939.5" x2="197.0" y2="939.5" stroke="#1A6FDF" stroke-width="3.5" stroke-linecap="round"/>
<polygon points="173.0,933.5 178.5,943.4 167.5,943.4" fill="#1A6FDF" stroke="none"/>
<text transform="translate(202.7,948.1) scale(1,1.03)" font-size="23.4" text-anchor="start" font-weight="bold" font-style="italic" fill="#000" >lyy = 1.0 mm</text>
<line x1="149.0" y1="971.7" x2="197.0" y2="971.7" stroke="#37AD6B" stroke-width="3.5" stroke-linecap="round"/>
<polygon points="173.0,977.7 178.5,967.8 167.5,967.8" fill="#37AD6B" stroke="none"/>
<text transform="translate(202.7,980.3) scale(1,1.03)" font-size="23.4" text-anchor="start" font-weight="bold" font-style="italic" fill="#000" >lyy = 1.3 mm</text>
<line x1="149.0" y1="1003.3" x2="197.0" y2="1003.3" stroke="#B177DE" stroke-width="3.5" stroke-linecap="round"/>
<polygon points="173.0,997.0 178.0,1003.3 173.0,1009.6 168.0,1003.3" fill="#B177DE" stroke="none"/>
<text transform="translate(202.7,1011.9) scale(1,1.03)" font-size="23.4" text-anchor="start" font-weight="bold" font-style="italic" fill="#000" >lyy = 1.6 mm</text>
<line x1="315.6" y1="685.3" x2="336.0" y2="685.3" stroke="#c4c4c4" stroke-width="2.2" />
<line x1="315.6" y1="795.5" x2="336.0" y2="795.5" stroke="#c4c4c4" stroke-width="2.2" />
<line x1="328.9" y1="699.3" x2="328.9" y2="781.5" stroke="#c4c4c4" stroke-width="2.4" />
<polygon points="328.9,687.3 334.4,705.3 323.4,705.3" fill="#c4c4c4"/>
<polygon points="328.9,793.5 334.4,775.5 323.4,775.5" fill="#c4c4c4"/>
<line x1="681.0" y1="834.0" x2="701.0" y2="834.0" stroke="#c4c4c4" stroke-width="2.2" />
<line x1="681.0" y1="952.8" x2="701.0" y2="952.8" stroke="#c4c4c4" stroke-width="2.2" />
<line x1="687.0" y1="848.0" x2="687.0" y2="938.8" stroke="#c4c4c4" stroke-width="2.4" />
<polygon points="687,836 692.5,854 681.5,854" fill="#c4c4c4"/>
<polygon points="687,950.8 692.5,932.8 681.5,932.8" fill="#c4c4c4"/>
<text transform="translate(335.5,750.8) scale(1,1.14)" font-size="22.5" text-anchor="start" font-weight="bold" font-style="italic" fill="#000" >152</text>
<circle cx="373.6" cy="732.8" r="2.5" fill="none" stroke="#000" stroke-width="0.9"/>
<text transform="translate(644.0,898.0) scale(1,1.14)" font-size="22.5" text-anchor="start" font-weight="bold" font-style="italic" fill="#000" >169</text>
<circle cx="682" cy="880" r="2.5" fill="none" stroke="#000" stroke-width="0.9"/>
<polygon points="553.3,697.7 561.8,704.1 639.5,708.4 632.0,702.0" fill="#6e6e6e"/>
<polygon points="641.6,621.1 649.5,628.5 639.5,708.4 632.0,702.0" fill="#8f8f8f"/>
<polygon points="563.9,619.0 641.6,621.1 632.0,702.0 553.3,697.7" fill="#d9d9d9"/>
<line x1="590.2" y1="620.8" x2="587.6" y2="634.8" stroke="#f5f02a" stroke-width="2.6" stroke-linecap="butt"/>
<line x1="616.3" y1="621.2" x2="613.8" y2="635.2" stroke="#f5f02a" stroke-width="2.6" stroke-linecap="butt"/>
<line x1="581.3" y1="684.8" x2="579.2" y2="698.5" stroke="#f5f02a" stroke-width="2.6" stroke-linecap="butt"/>
<line x1="607" y1="685.6" x2="604.9" y2="699.7" stroke="#f5f02a" stroke-width="2.6" stroke-linecap="butt"/>
<path d="M598.44,621.75 L605.35,622.17 L604.68,628.49 L602.40,628.32 L602.82,624.70 L600.72,624.44 L600.13,631.44 L604.68,631.69 L595.66,698.47 L588.91,698.05 L589.50,689.20 L591.86,689.37 L591.44,695.10 L593.72,695.27 L594.56,688.78 L590.60,688.36 L597.93,631.19 Z" fill="#f7f02a" stroke="#b9b000" stroke-width="0.7"/>
<line x1="545.8" y1="675.4" x2="490.0" y2="711.5" stroke="#0000ff" stroke-width="3.4" />
<polygon points="472.4,722.9 486.5,704.2 495.2,717.7" fill="#0000ff"/>
<polygon points="383.3,997.4 391.8,1004.9 470.1,1007.6 463.7,1000.6" fill="#6e6e6e"/>
<polygon points="472.8,919.2 480.0,925.0 470.1,1007.6 463.7,1000.6" fill="#8f8f8f"/>
<polygon points="393.4,916.5 472.8,919.2 463.7,1000.6 383.3,997.4" fill="#d9d9d9"/>
<line x1="420" y1="918.6" x2="417" y2="940" stroke="#f5f02a" stroke-width="2.6" stroke-linecap="butt"/>
<line x1="446" y1="919.2" x2="443.5" y2="940.5" stroke="#f5f02a" stroke-width="2.6" stroke-linecap="butt"/>
<line x1="412.6" y1="976.7" x2="409.4" y2="998" stroke="#f5f02a" stroke-width="2.6" stroke-linecap="butt"/>
<line x1="439.2" y1="977.2" x2="435.5" y2="998.5" stroke="#f5f02a" stroke-width="2.6" stroke-linecap="butt"/>
<path d="M424.8,948 L432.8,948.2 L430.4,968.5 L422.4,968.3 Z" fill="#f5f02a" stroke="#c9c400" stroke-width="0.6"/>
<path d="M425,946 L429.8,920 L436.3,920.3 L433.2,945.8 M431,945 L433,924.5" fill="none" stroke="#f5f02a" stroke-width="1.6"/>
<path d="M430,970 L427.5,997.5 L420.2,997.3 L423.4,970.5 M425,995 L427,972" fill="none" stroke="#f5f02a" stroke-width="1.6"/>
<line x1="486.2" y1="971.0" x2="529.0" y2="927.4" stroke="#0000ff" stroke-width="3.4" />
<polygon points="543.7,912.4 534.0,933.7 522.6,922.5" fill="#0000ff"/>
<clipPath id="cc"><rect x="850.6" y="16.4" width="541.9999999999999" height="437.6"/></clipPath><g clip-path="url(#cc)">
<polyline points="850.6,26.0 896.9,29.0 943.2,30.0 989.5,26.0 1035.8,23.0 1082.1,21.0 1128.4,20.5" fill="none" stroke="#515151" stroke-width="3.4" stroke-linejoin="round" stroke-linecap="round" />
<rect x="845.9" y="21.2" width="9.5" height="9.5" fill="#fff" stroke="#515151" stroke-width="1.3"/>
<rect x="892.1" y="24.2" width="9.5" height="9.5" fill="#fff" stroke="#515151" stroke-width="1.3"/>
<rect x="938.5" y="25.2" width="9.5" height="9.5" fill="#fff" stroke="#515151" stroke-width="1.3"/>
<rect x="984.8" y="21.2" width="9.5" height="9.5" fill="#fff" stroke="#515151" stroke-width="1.3"/>
<rect x="1031.0" y="18.2" width="9.5" height="9.5" fill="#fff" stroke="#515151" stroke-width="1.3"/>
<rect x="1077.3" y="16.2" width="9.5" height="9.5" fill="#fff" stroke="#515151" stroke-width="1.3"/>
<rect x="1123.7" y="15.8" width="9.5" height="9.5" fill="#fff" stroke="#515151" stroke-width="1.3"/>
<polyline points="1177.0,22.2 1220.1,23.5 1263.2,27.8 1306.4,34.0 1349.5,50.2 1392.6,83.0" fill="none" stroke="#515151" stroke-width="3.4" stroke-linejoin="round" stroke-linecap="round" />
<rect x="1172.2" y="17.4" width="9.5" height="9.5" fill="#fff" stroke="#515151" stroke-width="1.3"/>
<rect x="1215.4" y="18.8" width="9.5" height="9.5" fill="#fff" stroke="#515151" stroke-width="1.3"/>
<rect x="1258.5" y="23.1" width="9.5" height="9.5" fill="#fff" stroke="#515151" stroke-width="1.3"/>
<rect x="1301.6" y="29.2" width="9.5" height="9.5" fill="#fff" stroke="#515151" stroke-width="1.3"/>
<rect x="1344.7" y="45.5" width="9.5" height="9.5" fill="#fff" stroke="#515151" stroke-width="1.3"/>
<rect x="1387.8" y="78.2" width="9.5" height="9.5" fill="#fff" stroke="#515151" stroke-width="1.3"/>
<polyline points="1146.0,21.6 1177.0,22.2" fill="none" stroke="#515151" stroke-width="3.4" stroke-linejoin="round" stroke-linecap="round" />
<polyline points="850.6,27.0 896.9,29.5 943.2,30.0 989.5,25.6 1035.8,23.6 1082.1,21.6 1128.4,21.5" fill="none" stroke="#F14040" stroke-width="3.4" stroke-linejoin="round" stroke-linecap="round" />
<circle cx="850.6" cy="27.0" r="4.8" fill="#fff" stroke="#F14040" stroke-width="1.3"/>
<circle cx="896.9" cy="29.5" r="4.8" fill="#fff" stroke="#F14040" stroke-width="1.3"/>
<circle cx="943.2" cy="30.0" r="4.8" fill="#fff" stroke="#F14040" stroke-width="1.3"/>
<circle cx="989.5" cy="25.6" r="4.8" fill="#fff" stroke="#F14040" stroke-width="1.3"/>
<circle cx="1035.8" cy="23.6" r="4.8" fill="#fff" stroke="#F14040" stroke-width="1.3"/>
<circle cx="1082.1" cy="21.6" r="4.8" fill="#fff" stroke="#F14040" stroke-width="1.3"/>
<circle cx="1128.4" cy="21.5" r="4.8" fill="#fff" stroke="#F14040" stroke-width="1.3"/>
<polyline points="1177.0,24.0 1220.1,27.2 1263.2,34.0 1306.4,46.5 1349.5,86.7 1392.6,121.4" fill="none" stroke="#F14040" stroke-width="3.4" stroke-linejoin="round" stroke-linecap="round" />
<circle cx="1177.0" cy="24.0" r="4.8" fill="#fff" stroke="#F14040" stroke-width="1.3"/>
<circle cx="1220.1" cy="27.2" r="4.8" fill="#fff" stroke="#F14040" stroke-width="1.3"/>
<circle cx="1263.2" cy="34.0" r="4.8" fill="#fff" stroke="#F14040" stroke-width="1.3"/>
<circle cx="1306.4" cy="46.5" r="4.8" fill="#fff" stroke="#F14040" stroke-width="1.3"/>
<circle cx="1349.5" cy="86.7" r="4.8" fill="#fff" stroke="#F14040" stroke-width="1.3"/>
<circle cx="1392.6" cy="121.4" r="4.8" fill="#fff" stroke="#F14040" stroke-width="1.3"/>
<polyline points="1146.0,23.1 1177.0,24.0" fill="none" stroke="#F14040" stroke-width="3.4" stroke-linejoin="round" stroke-linecap="round" />
<polyline points="850.6,29.0 896.9,31.0 943.2,31.7 989.5,28.4 1035.8,26.0 1082.1,24.4 1128.4,24.0" fill="none" stroke="#1A6FDF" stroke-width="3.4" stroke-linejoin="round" stroke-linecap="round" />
<polygon points="850.6,23.5 855.6,32.6 845.6,32.6" fill="#fff" stroke="#1A6FDF" stroke-width="1.3"/>
<polygon points="896.9,25.5 901.9,34.6 891.9,34.6" fill="#fff" stroke="#1A6FDF" stroke-width="1.3"/>
<polygon points="943.2,26.2 948.2,35.3 938.2,35.3" fill="#fff" stroke="#1A6FDF" stroke-width="1.3"/>
<polygon points="989.5,22.9 994.5,32.0 984.5,32.0" fill="#fff" stroke="#1A6FDF" stroke-width="1.3"/>
<polygon points="1035.8,20.5 1040.8,29.6 1030.8,29.6" fill="#fff" stroke="#1A6FDF" stroke-width="1.3"/>
<polygon points="1082.1,18.9 1087.1,28.0 1077.1,28.0" fill="#fff" stroke="#1A6FDF" stroke-width="1.3"/>
<polygon points="1128.4,18.5 1133.4,27.6 1123.4,27.6" fill="#fff" stroke="#1A6FDF" stroke-width="1.3"/>
<polyline points="1177.0,26.8 1220.1,32.5 1263.2,44.6 1306.4,73.6 1349.5,113.9 1392.6,113.0" fill="none" stroke="#1A6FDF" stroke-width="3.4" stroke-linejoin="round" stroke-linecap="round" />
<polygon points="1177.0,21.3 1182.0,30.4 1172.0,30.4" fill="#fff" stroke="#1A6FDF" stroke-width="1.3"/>
<polygon points="1220.1,27.0 1225.1,36.1 1215.1,36.1" fill="#fff" stroke="#1A6FDF" stroke-width="1.3"/>
<polygon points="1263.2,39.1 1268.2,48.2 1258.3,48.2" fill="#fff" stroke="#1A6FDF" stroke-width="1.3"/>
<polygon points="1306.4,68.1 1311.3,77.2 1301.4,77.2" fill="#fff" stroke="#1A6FDF" stroke-width="1.3"/>
<polygon points="1349.5,108.4 1354.5,117.5 1344.5,117.5" fill="#fff" stroke="#1A6FDF" stroke-width="1.3"/>
<polygon points="1392.6,107.5 1397.6,116.6 1387.6,116.6" fill="#fff" stroke="#1A6FDF" stroke-width="1.3"/>
<polyline points="1146.0,26.0 1177.0,26.8" fill="none" stroke="#1A6FDF" stroke-width="3.4" stroke-linejoin="round" stroke-linecap="round" />
<polyline points="850.6,33.7 896.9,36.0 943.2,35.0 989.5,32.5 1035.8,30.0 1082.1,28.4 1128.4,29.0" fill="none" stroke="#37AD6B" stroke-width="3.4" stroke-linejoin="round" stroke-linecap="round" />
<polygon points="850.6,39.2 855.6,30.1 845.6,30.1" fill="#fff" stroke="#37AD6B" stroke-width="1.3"/>
<polygon points="896.9,41.5 901.9,32.4 891.9,32.4" fill="#fff" stroke="#37AD6B" stroke-width="1.3"/>
<polygon points="943.2,40.5 948.2,31.4 938.2,31.4" fill="#fff" stroke="#37AD6B" stroke-width="1.3"/>
<polygon points="989.5,38.0 994.5,28.9 984.5,28.9" fill="#fff" stroke="#37AD6B" stroke-width="1.3"/>
<polygon points="1035.8,35.5 1040.8,26.4 1030.8,26.4" fill="#fff" stroke="#37AD6B" stroke-width="1.3"/>
<polygon points="1082.1,33.9 1087.1,24.8 1077.1,24.8" fill="#fff" stroke="#37AD6B" stroke-width="1.3"/>
<polygon points="1128.4,34.5 1133.4,25.4 1123.4,25.4" fill="#fff" stroke="#37AD6B" stroke-width="1.3"/>
<polyline points="1177.0,31.5 1220.1,42.8 1263.2,65.2 1306.4,97.0 1349.5,106.4 1392.6,95.2" fill="none" stroke="#37AD6B" stroke-width="3.4" stroke-linejoin="round" stroke-linecap="round" />
<polygon points="1177.0,37.0 1182.0,27.9 1172.0,27.9" fill="#fff" stroke="#37AD6B" stroke-width="1.3"/>
<polygon points="1220.1,48.3 1225.1,39.2 1215.1,39.2" fill="#fff" stroke="#37AD6B" stroke-width="1.3"/>
<polygon points="1263.2,70.7 1268.2,61.6 1258.3,61.6" fill="#fff" stroke="#37AD6B" stroke-width="1.3"/>
<polygon points="1306.4,102.5 1311.3,93.4 1301.4,93.4" fill="#fff" stroke="#37AD6B" stroke-width="1.3"/>
<polygon points="1349.5,111.9 1354.5,102.8 1344.5,102.8" fill="#fff" stroke="#37AD6B" stroke-width="1.3"/>
<polygon points="1392.6,100.7 1397.6,91.6 1387.6,91.6" fill="#fff" stroke="#37AD6B" stroke-width="1.3"/>
<polyline points="1146.0,29.7 1177.0,31.5" fill="none" stroke="#37AD6B" stroke-width="3.4" stroke-linejoin="round" stroke-linecap="round" />
<polyline points="850.6,41.0 896.9,47.0 943.2,44.5 989.5,39.0 1035.8,36.0 1082.1,35.0 1128.4,35.7" fill="none" stroke="#B177DE" stroke-width="3.4" stroke-linejoin="round" stroke-linecap="round" />
<polygon points="850.6,35.3 855.1,41.0 850.6,46.7 846.1,41.0" fill="#fff" stroke="#B177DE" stroke-width="1.3"/>
<polygon points="896.9,41.3 901.4,47.0 896.9,52.7 892.4,47.0" fill="#fff" stroke="#B177DE" stroke-width="1.3"/>
<polygon points="943.2,38.8 947.7,44.5 943.2,50.2 938.7,44.5" fill="#fff" stroke="#B177DE" stroke-width="1.3"/>
<polygon points="989.5,33.3 994.0,39.0 989.5,44.7 985.0,39.0" fill="#fff" stroke="#B177DE" stroke-width="1.3"/>
<polygon points="1035.8,30.3 1040.3,36.0 1035.8,41.7 1031.3,36.0" fill="#fff" stroke="#B177DE" stroke-width="1.3"/>
<polygon points="1082.1,29.3 1086.6,35.0 1082.1,40.7 1077.6,35.0" fill="#fff" stroke="#B177DE" stroke-width="1.3"/>
<polygon points="1128.4,30.0 1132.9,35.7 1128.4,41.4 1123.9,35.7" fill="#fff" stroke="#B177DE" stroke-width="1.3"/>
<polyline points="1177.0,40.0 1220.1,55.9 1263.2,75.1 1306.4,88.2 1349.5,83.4 1392.6,83.4" fill="none" stroke="#B177DE" stroke-width="3.4" stroke-linejoin="round" stroke-linecap="round" />
<polygon points="1177.0,34.3 1181.5,40.0 1177.0,45.7 1172.5,40.0" fill="#fff" stroke="#B177DE" stroke-width="1.3"/>
<polygon points="1220.1,50.2 1224.6,55.9 1220.1,61.6 1215.6,55.9" fill="#fff" stroke="#B177DE" stroke-width="1.3"/>
<polygon points="1263.2,69.4 1267.8,75.1 1263.2,80.8 1258.7,75.1" fill="#fff" stroke="#B177DE" stroke-width="1.3"/>
<polygon points="1306.4,82.5 1310.9,88.2 1306.4,93.9 1301.8,88.2" fill="#fff" stroke="#B177DE" stroke-width="1.3"/>
<polygon points="1349.5,77.7 1354.0,83.4 1349.5,89.1 1345.0,83.4" fill="#fff" stroke="#B177DE" stroke-width="1.3"/>
<polygon points="1392.6,77.7 1397.1,83.4 1392.6,89.1 1388.1,83.4" fill="#fff" stroke="#B177DE" stroke-width="1.3"/>
<polyline points="1146.0,37.1 1177.0,40.0" fill="none" stroke="#B177DE" stroke-width="3.4" stroke-linejoin="round" stroke-linecap="round" />
<polyline points="850.6,58.0 896.9,68.0 943.2,55.0 989.5,45.0 1035.8,41.0 1082.1,41.0 1128.4,41.5" fill="none" stroke="#CC9900" stroke-width="3.4" stroke-linejoin="round" stroke-linecap="round" />
<polygon points="845.1,58.0 854.2,53.0 854.2,63.0" fill="#fff" stroke="#CC9900" stroke-width="1.3"/>
<polygon points="891.4,68.0 900.5,63.0 900.5,73.0" fill="#fff" stroke="#CC9900" stroke-width="1.3"/>
<polygon points="937.7,55.0 946.8,50.0 946.8,60.0" fill="#fff" stroke="#CC9900" stroke-width="1.3"/>
<polygon points="984.0,45.0 993.1,40.0 993.1,50.0" fill="#fff" stroke="#CC9900" stroke-width="1.3"/>
<polygon points="1030.3,41.0 1039.4,36.0 1039.4,46.0" fill="#fff" stroke="#CC9900" stroke-width="1.3"/>
<polygon points="1076.6,41.0 1085.7,36.0 1085.7,46.0" fill="#fff" stroke="#CC9900" stroke-width="1.3"/>
<polygon points="1122.9,41.5 1132.0,36.5 1132.0,46.5" fill="#fff" stroke="#CC9900" stroke-width="1.3"/>
<polyline points="1177.0,45.6 1220.1,54.0 1263.2,61.5 1306.4,62.4 1349.5,55.9 1392.6,63.3" fill="none" stroke="#CC9900" stroke-width="3.4" stroke-linejoin="round" stroke-linecap="round" />
<polygon points="1171.5,45.6 1180.6,40.6 1180.6,50.6" fill="#fff" stroke="#CC9900" stroke-width="1.3"/>
<polygon points="1214.7,54.0 1223.7,49.0 1223.7,59.0" fill="#fff" stroke="#CC9900" stroke-width="1.3"/>
<polygon points="1257.8,61.5 1266.8,56.5 1266.8,66.5" fill="#fff" stroke="#CC9900" stroke-width="1.3"/>
<polygon points="1300.9,62.4 1309.9,57.4 1309.9,67.4" fill="#fff" stroke="#CC9900" stroke-width="1.3"/>
<polygon points="1344.0,55.9 1353.0,50.9 1353.0,60.9" fill="#fff" stroke="#CC9900" stroke-width="1.3"/>
<polygon points="1387.1,63.3 1396.2,58.3 1396.2,68.3" fill="#fff" stroke="#CC9900" stroke-width="1.3"/>
<polyline points="1146.0,42.8 1177.0,45.6" fill="none" stroke="#CC9900" stroke-width="3.4" stroke-linejoin="round" stroke-linecap="round" />
<polyline points="850.6,102.0 896.9,78.0 943.2,55.0 989.5,47.0 1035.8,44.0 1082.1,44.0 1128.4,44.5" fill="none" stroke="#00CBCC" stroke-width="3.4" stroke-linejoin="round" stroke-linecap="round" />
<polygon points="856.1,102.0 847.0,97.0 847.0,107.0" fill="#fff" stroke="#00CBCC" stroke-width="1.3"/>
<polygon points="902.4,78.0 893.3,73.0 893.3,83.0" fill="#fff" stroke="#00CBCC" stroke-width="1.3"/>
<polygon points="948.7,55.0 939.6,50.0 939.6,60.0" fill="#fff" stroke="#00CBCC" stroke-width="1.3"/>
<polygon points="995.0,47.0 985.9,42.0 985.9,52.0" fill="#fff" stroke="#00CBCC" stroke-width="1.3"/>
<polygon points="1041.3,44.0 1032.2,39.0 1032.2,49.0" fill="#fff" stroke="#00CBCC" stroke-width="1.3"/>
<polygon points="1087.6,44.0 1078.5,39.0 1078.5,49.0" fill="#fff" stroke="#00CBCC" stroke-width="1.3"/>
<polygon points="1133.9,44.5 1124.8,39.5 1124.8,49.5" fill="#fff" stroke="#00CBCC" stroke-width="1.3"/>
<polyline points="1177.0,47.4 1220.1,49.7 1263.2,48.4 1306.4,47.4 1349.5,47.4 1392.6,206.5" fill="none" stroke="#00CBCC" stroke-width="3.4" stroke-linejoin="round" stroke-linecap="round" />
<polygon points="1182.5,47.4 1173.4,42.4 1173.4,52.4" fill="#fff" stroke="#00CBCC" stroke-width="1.3"/>
<polygon points="1225.6,49.7 1216.6,44.7 1216.6,54.7" fill="#fff" stroke="#00CBCC" stroke-width="1.3"/>
<polygon points="1268.7,48.4 1259.7,43.4 1259.7,53.4" fill="#fff" stroke="#00CBCC" stroke-width="1.3"/>
<polygon points="1311.8,47.4 1302.8,42.4 1302.8,52.4" fill="#fff" stroke="#00CBCC" stroke-width="1.3"/>
<polygon points="1354.9,47.4 1345.9,42.4 1345.9,52.4" fill="#fff" stroke="#00CBCC" stroke-width="1.3"/>
<polygon points="1398.1,206.5 1389.0,201.5 1389.0,211.5" fill="#fff" stroke="#00CBCC" stroke-width="1.3"/>
<polyline points="1146.0,45.6 1177.0,47.4" fill="none" stroke="#00CBCC" stroke-width="3.4" stroke-linejoin="round" stroke-linecap="round" />
<polyline points="850.6,128.1 896.9,144.1 943.2,167.1 989.5,190.5 1035.8,205.8 1082.1,215.4 1128.4,222.0" fill="none" stroke="#000000" stroke-width="3.0" stroke-linejoin="round" stroke-linecap="round" />
<rect x="846.1" y="123.6" width="9.0" height="9.0" fill="#000000" stroke="none"/>
<rect x="892.4" y="139.6" width="9.0" height="9.0" fill="#000000" stroke="none"/>
<rect x="938.7" y="162.6" width="9.0" height="9.0" fill="#000000" stroke="none"/>
<rect x="985.0" y="186.0" width="9.0" height="9.0" fill="#000000" stroke="none"/>
<rect x="1031.3" y="201.3" width="9.0" height="9.0" fill="#000000" stroke="none"/>
<rect x="1077.6" y="210.9" width="9.0" height="9.0" fill="#000000" stroke="none"/>
<rect x="1123.9" y="217.5" width="9.0" height="9.0" fill="#000000" stroke="none"/>
<polyline points="1146.0,223.0 1177.0,224.1 1220.1,227.3 1263.2,232.0 1306.4,238.6 1349.5,249.6 1392.6,267.1" fill="none" stroke="#000000" stroke-width="3.0" stroke-linejoin="round" stroke-linecap="round" />
<rect x="1172.5" y="219.6" width="9.0" height="9.0" fill="#000000" stroke="none"/>
<rect x="1215.6" y="222.8" width="9.0" height="9.0" fill="#000000" stroke="none"/>
<rect x="1258.7" y="227.5" width="9.0" height="9.0" fill="#000000" stroke="none"/>
<rect x="1301.9" y="234.1" width="9.0" height="9.0" fill="#000000" stroke="none"/>
<rect x="1345.0" y="245.1" width="9.0" height="9.0" fill="#000000" stroke="none"/>
<rect x="1388.1" y="262.6" width="9.0" height="9.0" fill="#000000" stroke="none"/>
<polyline points="850.6,146.6 896.9,165.4 943.2,188.8 989.5,207.9 1035.8,220.7 1082.1,228.8 1128.4,234.8" fill="none" stroke="#FF0000" stroke-width="3.0" stroke-linejoin="round" stroke-linecap="round" />
<circle cx="850.6" cy="146.6" r="4.5" fill="#FF0000" stroke="none"/>
<circle cx="896.9" cy="165.4" r="4.5" fill="#FF0000" stroke="none"/>
<circle cx="943.2" cy="188.8" r="4.5" fill="#FF0000" stroke="none"/>
<circle cx="989.5" cy="207.9" r="4.5" fill="#FF0000" stroke="none"/>
<circle cx="1035.8" cy="220.7" r="4.5" fill="#FF0000" stroke="none"/>
<circle cx="1082.1" cy="228.8" r="4.5" fill="#FF0000" stroke="none"/>
<circle cx="1128.4" cy="234.8" r="4.5" fill="#FF0000" stroke="none"/>
<polyline points="1146.0,235.4 1177.0,237.3 1220.1,241.1 1263.2,247.5 1306.4,258.1 1349.5,277.3 1392.6,303.9" fill="none" stroke="#FF0000" stroke-width="3.0" stroke-linejoin="round" stroke-linecap="round" />
<circle cx="1177.0" cy="237.3" r="4.5" fill="#FF0000" stroke="none"/>
<circle cx="1220.1" cy="241.1" r="4.5" fill="#FF0000" stroke="none"/>
<circle cx="1263.2" cy="247.5" r="4.5" fill="#FF0000" stroke="none"/>
<circle cx="1306.4" cy="258.1" r="4.5" fill="#FF0000" stroke="none"/>
<circle cx="1349.5" cy="277.3" r="4.5" fill="#FF0000" stroke="none"/>
<circle cx="1392.6" cy="303.9" r="4.5" fill="#FF0000" stroke="none"/>
<polyline points="850.6,164.9 896.9,184.9 943.2,207.9 989.5,225.0 1035.8,236.0 1082.1,243.1 1128.4,248.7" fill="none" stroke="#0000FF" stroke-width="3.0" stroke-linejoin="round" stroke-linecap="round" />
<polygon points="850.6,159.7 855.3,168.3 845.9,168.3" fill="#0000FF" stroke="none"/>
<polygon points="896.9,179.7 901.6,188.3 892.2,188.3" fill="#0000FF" stroke="none"/>
<polygon points="943.2,202.7 947.9,211.3 938.5,211.3" fill="#0000FF" stroke="none"/>
<polygon points="989.5,219.8 994.2,228.4 984.8,228.4" fill="#0000FF" stroke="none"/>
<polygon points="1035.8,230.8 1040.5,239.4 1031.1,239.4" fill="#0000FF" stroke="none"/>
<polygon points="1082.1,237.9 1086.8,246.5 1077.4,246.5" fill="#0000FF" stroke="none"/>
<polygon points="1128.4,243.5 1133.1,252.1 1123.7,252.1" fill="#0000FF" stroke="none"/>
<polyline points="1146.0,250.7 1177.0,252.2 1220.1,258.1 1263.2,267.7 1306.4,283.7 1349.5,312.4 1392.6,339.0" fill="none" stroke="#0000FF" stroke-width="3.0" stroke-linejoin="round" stroke-linecap="round" />
<polygon points="1177.0,247.0 1181.7,255.6 1172.3,255.6" fill="#0000FF" stroke="none"/>
<polygon points="1220.1,252.9 1224.8,261.5 1215.4,261.5" fill="#0000FF" stroke="none"/>
<polygon points="1263.2,262.5 1268.0,271.1 1258.5,271.1" fill="#0000FF" stroke="none"/>
<polygon points="1306.4,278.5 1311.1,287.1 1301.6,287.1" fill="#0000FF" stroke="none"/>
<polygon points="1349.5,307.2 1354.2,315.8 1344.8,315.8" fill="#0000FF" stroke="none"/>
<polygon points="1392.6,333.8 1397.3,342.4 1387.9,342.4" fill="#0000FF" stroke="none"/>
<polyline points="850.6,182.4 896.9,205.8 943.2,228.2 989.5,243.7 1035.8,253.1 1082.1,260.1 1128.4,266.7" fill="none" stroke="#66A81A" stroke-width="3.0" stroke-linejoin="round" stroke-linecap="round" />
<polygon points="850.6,187.6 855.3,179.0 845.9,179.0" fill="#66A81A" stroke="none"/>
<polygon points="896.9,211.0 901.6,202.4 892.2,202.4" fill="#66A81A" stroke="none"/>
<polygon points="943.2,233.4 947.9,224.8 938.5,224.8" fill="#66A81A" stroke="none"/>
<polygon points="989.5,248.9 994.2,240.3 984.8,240.3" fill="#66A81A" stroke="none"/>
<polygon points="1035.8,258.3 1040.5,249.7 1031.1,249.7" fill="#66A81A" stroke="none"/>
<polygon points="1082.1,265.3 1086.8,256.7 1077.4,256.7" fill="#66A81A" stroke="none"/>
<polygon points="1128.4,271.9 1133.1,263.3 1123.7,263.3" fill="#66A81A" stroke="none"/>
<polyline points="1146.0,268.4 1177.0,270.9 1220.1,280.5 1263.2,294.3 1306.4,317.8 1349.5,345.5 1392.6,362.5" fill="none" stroke="#66A81A" stroke-width="3.0" stroke-linejoin="round" stroke-linecap="round" />
<polygon points="1177.0,276.1 1181.7,267.5 1172.3,267.5" fill="#66A81A" stroke="none"/>
<polygon points="1220.1,285.7 1224.8,277.1 1215.4,277.1" fill="#66A81A" stroke="none"/>
<polygon points="1263.2,299.5 1268.0,290.9 1258.5,290.9" fill="#66A81A" stroke="none"/>
<polygon points="1306.4,323.0 1311.1,314.4 1301.6,314.4" fill="#66A81A" stroke="none"/>
<polygon points="1349.5,350.7 1354.2,342.1 1344.8,342.1" fill="#66A81A" stroke="none"/>
<polygon points="1392.6,367.7 1397.3,359.1 1387.9,359.1" fill="#66A81A" stroke="none"/>
<polyline points="850.6,199.4 896.9,227.1 943.2,250.9 989.5,265.4 1035.8,273.9 1082.1,280.3 1128.4,287.5" fill="none" stroke="#FF00FF" stroke-width="3.0" stroke-linejoin="round" stroke-linecap="round" />
<polygon points="850.6,194.0 854.9,199.4 850.6,204.8 846.3,199.4" fill="#FF00FF" stroke="none"/>
<polygon points="896.9,221.7 901.2,227.1 896.9,232.5 892.6,227.1" fill="#FF00FF" stroke="none"/>
<polygon points="943.2,245.5 947.5,250.9 943.2,256.3 938.9,250.9" fill="#FF00FF" stroke="none"/>
<polygon points="989.5,260.0 993.8,265.4 989.5,270.8 985.2,265.4" fill="#FF00FF" stroke="none"/>
<polygon points="1035.8,268.5 1040.1,273.9 1035.8,279.3 1031.5,273.9" fill="#FF00FF" stroke="none"/>
<polygon points="1082.1,274.9 1086.4,280.3 1082.1,285.7 1077.8,280.3" fill="#FF00FF" stroke="none"/>
<polygon points="1128.4,282.1 1132.7,287.5 1128.4,292.9 1124.1,287.5" fill="#FF00FF" stroke="none"/>
<polyline points="1146.0,290.1 1177.0,294.3 1220.1,307.1 1263.2,326.3 1306.4,347.6 1349.5,368.9 1392.6,380.6" fill="none" stroke="#FF00FF" stroke-width="3.0" stroke-linejoin="round" stroke-linecap="round" />
<polygon points="1177.0,288.9 1181.3,294.3 1177.0,299.7 1172.7,294.3" fill="#FF00FF" stroke="none"/>
<polygon points="1220.1,301.7 1224.4,307.1 1220.1,312.5 1215.8,307.1" fill="#FF00FF" stroke="none"/>
<polygon points="1263.2,320.9 1267.5,326.3 1263.2,331.7 1259.0,326.3" fill="#FF00FF" stroke="none"/>
<polygon points="1306.4,342.2 1310.6,347.6 1306.4,353.0 1302.1,347.6" fill="#FF00FF" stroke="none"/>
<polygon points="1349.5,363.5 1353.8,368.9 1349.5,374.3 1345.2,368.9" fill="#FF00FF" stroke="none"/>
<polygon points="1392.6,375.2 1396.9,380.6 1392.6,386.0 1388.3,380.6" fill="#FF00FF" stroke="none"/>
<polyline points="850.6,220.7 896.9,256.5 943.2,280.3 989.5,293.1 1035.8,300.5 1082.1,306.9 1128.4,315.0" fill="none" stroke="#CC0000" stroke-width="3.0" stroke-linejoin="round" stroke-linecap="round" />
<polygon points="845.4,220.7 854.0,216.0 854.0,225.4" fill="#CC0000" stroke="none"/>
<polygon points="891.7,256.5 900.3,251.8 900.3,261.2" fill="#CC0000" stroke="none"/>
<polygon points="938.0,280.3 946.6,275.6 946.6,285.0" fill="#CC0000" stroke="none"/>
<polygon points="984.3,293.1 992.9,288.4 992.9,297.8" fill="#CC0000" stroke="none"/>
<polygon points="1030.6,300.5 1039.2,295.8 1039.2,305.2" fill="#CC0000" stroke="none"/>
<polygon points="1076.9,306.9 1085.5,302.2 1085.5,311.6" fill="#CC0000" stroke="none"/>
<polygon points="1123.2,315.0 1131.8,310.3 1131.8,319.7" fill="#CC0000" stroke="none"/>
<polyline points="1146.0,317.8 1177.0,324.2 1220.1,338.0 1263.2,355.7 1306.4,372.7 1349.5,388.5 1392.6,396.6" fill="none" stroke="#CC0000" stroke-width="3.0" stroke-linejoin="round" stroke-linecap="round" />
<polygon points="1171.8,324.2 1180.4,319.5 1180.4,328.9" fill="#CC0000" stroke="none"/>
<polygon points="1214.9,338.0 1223.5,333.3 1223.5,342.7" fill="#CC0000" stroke="none"/>
<polygon points="1258.1,355.7 1266.6,351.0 1266.6,360.4" fill="#CC0000" stroke="none"/>
<polygon points="1301.2,372.7 1309.7,368.0 1309.7,377.4" fill="#CC0000" stroke="none"/>
<polygon points="1344.3,388.5 1352.9,383.8 1352.9,393.2" fill="#CC0000" stroke="none"/>
<polygon points="1387.4,396.6 1396.0,391.9 1396.0,401.3" fill="#CC0000" stroke="none"/>
<polyline points="850.6,254.8 896.9,300.5 943.2,317.6 989.5,325.5 1035.8,331.4 1082.1,336.7 1128.4,344.5" fill="none" stroke="#1BC8C8" stroke-width="3.0" stroke-linejoin="round" stroke-linecap="round" />
<polygon points="855.8,254.8 847.2,250.1 847.2,259.5" fill="#1BC8C8" stroke="none"/>
<polygon points="902.1,300.5 893.5,295.8 893.5,305.2" fill="#1BC8C8" stroke="none"/>
<polygon points="948.4,317.6 939.8,312.9 939.8,322.3" fill="#1BC8C8" stroke="none"/>
<polygon points="994.7,325.5 986.1,320.8 986.1,330.2" fill="#1BC8C8" stroke="none"/>
<polygon points="1041.0,331.4 1032.4,326.7 1032.4,336.1" fill="#1BC8C8" stroke="none"/>
<polygon points="1087.3,336.7 1078.7,332.0 1078.7,341.4" fill="#1BC8C8" stroke="none"/>
<polygon points="1133.6,344.5 1125.0,339.8 1125.0,349.2" fill="#1BC8C8" stroke="none"/>
<polyline points="1146.0,348.0 1177.0,355.0 1220.1,368.9 1263.2,384.2 1306.4,398.7 1349.5,412.5 1392.6,418.9" fill="none" stroke="#1BC8C8" stroke-width="3.0" stroke-linejoin="round" stroke-linecap="round" />
<polygon points="1182.2,355.0 1173.6,350.3 1173.6,359.7" fill="#1BC8C8" stroke="none"/>
<polygon points="1225.3,368.9 1216.7,364.2 1216.7,373.6" fill="#1BC8C8" stroke="none"/>
<polygon points="1268.4,384.2 1259.9,379.5 1259.9,388.9" fill="#1BC8C8" stroke="none"/>
<polygon points="1311.5,398.7 1303.0,394.0 1303.0,403.4" fill="#1BC8C8" stroke="none"/>
<polygon points="1354.7,412.5 1346.1,407.8 1346.1,417.2" fill="#1BC8C8" stroke="none"/>
<polygon points="1397.8,418.9 1389.2,414.2 1389.2,423.6" fill="#1BC8C8" stroke="none"/>
</g>
<line x1="849.4" y1="16.4" x2="1392.6" y2="16.4" stroke="#000" stroke-width="2.2" />
<line x1="849.4" y1="454.0" x2="1393.6" y2="454.0" stroke="#000" stroke-width="2.2" />
<line x1="850.6" y1="15.2" x2="850.6" y2="455.2" stroke="#000" stroke-width="2.4" />
<line x1="1392.6" y1="15.4" x2="1392.6" y2="455.0" stroke="#555" stroke-width="2.0" />
<rect x="1137.2" y="13.399999999999999" width="8.8" height="442.6" fill="#fff"/>
<line x1="1132.2" y1="461" x2="1140.2" y2="445" stroke="#000" stroke-width="1.8"/>
<line x1="1142.2" y1="461" x2="1150.2" y2="445" stroke="#000" stroke-width="1.8"/>
<line x1="850.6" y1="454.0" x2="850.6" y2="462.0" stroke="#000" stroke-width="2" />
<line x1="896.9" y1="454.0" x2="896.9" y2="458.0" stroke="#000" stroke-width="2" />
<line x1="943.2" y1="454.0" x2="943.2" y2="462.0" stroke="#000" stroke-width="2" />
<line x1="989.5" y1="454.0" x2="989.5" y2="458.0" stroke="#000" stroke-width="2" />
<line x1="1035.8" y1="454.0" x2="1035.8" y2="462.0" stroke="#000" stroke-width="2" />
<line x1="1082.1" y1="454.0" x2="1082.1" y2="458.0" stroke="#000" stroke-width="2" />
<line x1="1128.4" y1="454.0" x2="1128.4" y2="462.0" stroke="#000" stroke-width="2" />
<line x1="1177.0" y1="454.0" x2="1177.0" y2="458.0" stroke="#000" stroke-width="2" />
<line x1="1220.1" y1="454.0" x2="1220.1" y2="462.0" stroke="#000" stroke-width="2" />
<line x1="1263.2" y1="454.0" x2="1263.2" y2="458.0" stroke="#000" stroke-width="2" />
<line x1="1306.4" y1="454.0" x2="1306.4" y2="462.0" stroke="#000" stroke-width="2" />
<line x1="1349.5" y1="454.0" x2="1349.5" y2="458.0" stroke="#000" stroke-width="2" />
<line x1="1392.6" y1="454.0" x2="1392.6" y2="462.0" stroke="#000" stroke-width="2" />
<text transform="translate(850.6,489.5) scale(1,1.09)" font-size="26" text-anchor="middle" font-weight="bold" font-style="normal" fill="#000" >2.4</text>
<text transform="translate(943.2,489.5) scale(1,1.09)" font-size="26" text-anchor="middle" font-weight="bold" font-style="normal" fill="#000" >3.2</text>
<text transform="translate(1035.8,489.5) scale(1,1.09)" font-size="26" text-anchor="middle" font-weight="bold" font-style="normal" fill="#000" >4.0</text>
<text transform="translate(1128.4,489.5) scale(1,1.09)" font-size="26" text-anchor="middle" font-weight="bold" font-style="normal" fill="#000" >4.8(0.4)</text>
<text transform="translate(1220.1,489.5) scale(1,1.09)" font-size="26" text-anchor="middle" font-weight="bold" font-style="normal" fill="#000" >0.8</text>
<text transform="translate(1306.4,489.5) scale(1,1.09)" font-size="26" text-anchor="middle" font-weight="bold" font-style="normal" fill="#000" >1.2</text>
<text transform="translate(1392.6,489.5) scale(1,1.09)" font-size="26" text-anchor="middle" font-weight="bold" font-style="normal" fill="#000" >1.6</text>
<line x1="841.6" y1="34.6" x2="850.6" y2="34.6" stroke="#000" stroke-width="2" />
<text transform="translate(835.6,42.2) scale(1,1.09)" font-size="27.2" text-anchor="end" font-weight="bold" font-style="normal" fill="#000" >400</text>
<line x1="846.1" y1="57.4" x2="850.6" y2="57.4" stroke="#000" stroke-width="2" />
<line x1="841.6" y1="80.3" x2="850.6" y2="80.3" stroke="#000" stroke-width="2" />
<text transform="translate(835.6,87.9) scale(1,1.09)" font-size="27.2" text-anchor="end" font-weight="bold" font-style="normal" fill="#000" >300</text>
<line x1="846.1" y1="103.2" x2="850.6" y2="103.2" stroke="#000" stroke-width="2" />
<line x1="841.6" y1="126.0" x2="850.6" y2="126.0" stroke="#000" stroke-width="2" />
<text transform="translate(835.6,133.6) scale(1,1.09)" font-size="27.2" text-anchor="end" font-weight="bold" font-style="normal" fill="#000" >200</text>
<line x1="846.1" y1="148.9" x2="850.6" y2="148.9" stroke="#000" stroke-width="2" />
<line x1="841.6" y1="171.7" x2="850.6" y2="171.7" stroke="#000" stroke-width="2" />
<text transform="translate(835.6,179.3) scale(1,1.09)" font-size="27.2" text-anchor="end" font-weight="bold" font-style="normal" fill="#000" >100</text>
<line x1="846.1" y1="194.6" x2="850.6" y2="194.6" stroke="#000" stroke-width="2" />
<line x1="841.6" y1="217.4" x2="850.6" y2="217.4" stroke="#000" stroke-width="2" />
<text transform="translate(835.6,225.0) scale(1,1.09)" font-size="27.2" text-anchor="end" font-weight="bold" font-style="normal" fill="#000" >0</text>
<line x1="846.1" y1="240.2" x2="850.6" y2="240.2" stroke="#000" stroke-width="2" />
<line x1="841.6" y1="263.1" x2="850.6" y2="263.1" stroke="#000" stroke-width="2" />
<text transform="translate(835.6,270.7) scale(1,1.09)" font-size="27.2" text-anchor="end" font-weight="bold" font-style="normal" fill="#000" >-100</text>
<line x1="846.1" y1="285.9" x2="850.6" y2="285.9" stroke="#000" stroke-width="2" />
<line x1="841.6" y1="308.8" x2="850.6" y2="308.8" stroke="#000" stroke-width="2" />
<text transform="translate(835.6,316.4) scale(1,1.09)" font-size="27.2" text-anchor="end" font-weight="bold" font-style="normal" fill="#000" >-200</text>
<line x1="846.1" y1="331.6" x2="850.6" y2="331.6" stroke="#000" stroke-width="2" />
<line x1="841.6" y1="354.5" x2="850.6" y2="354.5" stroke="#000" stroke-width="2" />
<text transform="translate(835.6,362.1) scale(1,1.09)" font-size="27.2" text-anchor="end" font-weight="bold" font-style="normal" fill="#000" >-300</text>
<line x1="846.1" y1="377.4" x2="850.6" y2="377.4" stroke="#000" stroke-width="2" />
<line x1="841.6" y1="400.2" x2="850.6" y2="400.2" stroke="#000" stroke-width="2" />
<text transform="translate(835.6,407.8) scale(1,1.09)" font-size="27.2" text-anchor="end" font-weight="bold" font-style="normal" fill="#000" >-400</text>
<line x1="846.1" y1="423.1" x2="850.6" y2="423.1" stroke="#000" stroke-width="2" />
<line x1="841.6" y1="445.9" x2="850.6" y2="445.9" stroke="#000" stroke-width="2" />
<text transform="translate(835.6,453.5) scale(1,1.09)" font-size="27.2" text-anchor="end" font-weight="bold" font-style="normal" fill="#000" >-500</text>
<line x1="1392.6" y1="16.4" x2="1401.6" y2="16.4" stroke="#555" stroke-width="2" />
<text transform="translate(1408.5,24.0) scale(1,1.09)" font-size="27.2" text-anchor="start" font-weight="bold" font-style="normal" fill="#4a4a4a" >1.0</text>
<line x1="1392.6" y1="42.1" x2="1397.1" y2="42.1" stroke="#555" stroke-width="2" />
<line x1="1392.6" y1="67.9" x2="1397.1" y2="67.9" stroke="#555" stroke-width="2" />
<line x1="1392.6" y1="93.6" x2="1397.1" y2="93.6" stroke="#555" stroke-width="2" />
<line x1="1392.6" y1="119.4" x2="1397.1" y2="119.4" stroke="#555" stroke-width="2" />
<line x1="1392.6" y1="145.1" x2="1401.6" y2="145.1" stroke="#555" stroke-width="2" />
<text transform="translate(1408.5,152.7) scale(1,1.09)" font-size="27.2" text-anchor="start" font-weight="bold" font-style="normal" fill="#4a4a4a" >0.9</text>
<line x1="1392.6" y1="170.8" x2="1397.1" y2="170.8" stroke="#555" stroke-width="2" />
<line x1="1392.6" y1="196.6" x2="1397.1" y2="196.6" stroke="#555" stroke-width="2" />
<line x1="1392.6" y1="222.3" x2="1397.1" y2="222.3" stroke="#555" stroke-width="2" />
<line x1="1392.6" y1="248.1" x2="1397.1" y2="248.1" stroke="#555" stroke-width="2" />
<line x1="1392.6" y1="273.8" x2="1401.6" y2="273.8" stroke="#555" stroke-width="2" />
<text transform="translate(1408.5,281.4) scale(1,1.09)" font-size="27.2" text-anchor="start" font-weight="bold" font-style="normal" fill="#4a4a4a" >0.8</text>
<line x1="1392.6" y1="299.5" x2="1397.1" y2="299.5" stroke="#555" stroke-width="2" />
<line x1="1392.6" y1="325.3" x2="1397.1" y2="325.3" stroke="#555" stroke-width="2" />
<line x1="1392.6" y1="351.0" x2="1397.1" y2="351.0" stroke="#555" stroke-width="2" />
<line x1="1392.6" y1="376.8" x2="1397.1" y2="376.8" stroke="#555" stroke-width="2" />
<line x1="1392.6" y1="402.5" x2="1401.6" y2="402.5" stroke="#555" stroke-width="2" />
<text transform="translate(1408.5,410.1) scale(1,1.09)" font-size="27.2" text-anchor="start" font-weight="bold" font-style="normal" fill="#4a4a4a" >0.7</text>
<line x1="1392.6" y1="428.2" x2="1397.1" y2="428.2" stroke="#555" stroke-width="2" />
<line x1="1392.6" y1="454.0" x2="1397.1" y2="454.0" stroke="#555" stroke-width="2" />
<text transform="translate(770.0,234.0) rotate(-90) scale(1,1.0)" font-size="37.6" text-anchor="middle" font-weight="bold" font-style="normal" fill="#000" >Phase (deg)</text>
<text transform="translate(1479.8,234.8) rotate(-90) scale(1,1.0)" font-size="37.6" text-anchor="middle" font-weight="bold" font-style="normal" fill="#000" >Magnitude</text>
<text transform="translate(1121.6,542.5) scale(1,1.0)" font-size="37.6" text-anchor="middle" font-weight="bold" font-style="normal" fill="#000" >ly and lyy (mm)</text>
<text transform="translate(726.0,34.0) scale(1,1.04)" font-size="44.8" text-anchor="start" font-weight="bold" font-style="normal" fill="#000" >(c)</text>
<line x1="861.2" y1="402.8" x2="895.8" y2="402.8" stroke="#000000" stroke-width="3.2" stroke-linecap="round"/>
<rect x="873.8" y="398.1" width="9.5" height="9.5" fill="#000000" stroke="none"/>
<text transform="translate(900.3,409.0) scale(1,1.03)" font-size="21" text-anchor="start" font-weight="bold" font-style="italic" fill="#000" >26 GHz</text>
<line x1="984.7" y1="402.8" x2="1019.0" y2="402.8" stroke="#FF0000" stroke-width="3.2" stroke-linecap="round"/>
<circle cx="1001.9" cy="402.8" r="4.8" fill="#FF0000" stroke="none"/>
<text transform="translate(1023.2,409.0) scale(1,1.03)" font-size="21" text-anchor="start" font-weight="bold" font-style="italic" fill="#000" >28 GHz</text>
<line x1="1107.5" y1="402.8" x2="1141.9" y2="402.8" stroke="#0000FF" stroke-width="3.2" stroke-linecap="round"/>
<polygon points="1124.7,397.3 1129.7,406.4 1119.7,406.4" fill="#0000FF" stroke="none"/>
<text transform="translate(1146.0,409.0) scale(1,1.03)" font-size="21" text-anchor="start" font-weight="bold" font-style="italic" fill="#000" >30 GHz</text>
<line x1="861.2" y1="433.3" x2="895.8" y2="433.3" stroke="#66A81A" stroke-width="3.2" stroke-linecap="round"/>
<polygon points="878.5,438.8 883.5,429.7 873.5,429.7" fill="#66A81A" stroke="none"/>
<text transform="translate(900.3,439.5) scale(1,1.03)" font-size="21" text-anchor="start" font-weight="bold" font-style="italic" fill="#000" >32 GHz</text>
<line x1="984.7" y1="433.3" x2="1019.0" y2="433.3" stroke="#FF00FF" stroke-width="3.2" stroke-linecap="round"/>
<polygon points="1001.9,427.6 1006.4,433.3 1001.9,439.0 997.3,433.3" fill="#FF00FF" stroke="none"/>
<text transform="translate(1023.2,439.5) scale(1,1.03)" font-size="21" text-anchor="start" font-weight="bold" font-style="italic" fill="#000" >34 GHz</text>
<line x1="1107.5" y1="433.3" x2="1141.9" y2="433.3" stroke="#CC0000" stroke-width="3.2" stroke-linecap="round"/>
<polygon points="1119.2,433.3 1128.3,428.3 1128.3,438.3" fill="#CC0000" stroke="none"/>
<text transform="translate(1146.0,439.5) scale(1,1.03)" font-size="21" text-anchor="start" font-weight="bold" font-style="italic" fill="#000" >36 GHz</text>
<text transform="translate(1232.4,409.0) scale(1,1.03)" font-size="21" text-anchor="start" font-weight="bold" font-style="italic" fill="#000" >Phase</text>
<line x1="1230.5" y1="433.3" x2="1267.3" y2="433.3" stroke="#1BC8C8" stroke-width="3.2" stroke-linecap="round"/>
<polygon points="1254.8,433.3 1245.2,428.1 1245.2,438.6" fill="#1BC8C8" stroke="none"/>
<text transform="translate(1269.0,439.5) scale(1,1.03)" font-size="21" text-anchor="start" font-weight="bold" font-style="italic" fill="#000" >38 GHz</text>
<line x1="989.8" y1="117.5" x2="1022.8" y2="117.5" stroke="#515151" stroke-width="3.4" stroke-linecap="round"/>
<rect x="1001.3" y="112.5" width="10.0" height="10.0" fill="#fff" stroke="#515151" stroke-width="1.3"/>
<text transform="translate(1028.0,123.7) scale(1,1.03)" font-size="21" text-anchor="start" font-weight="bold" font-style="italic" fill="#000" >26 GHz</text>
<line x1="1112.5" y1="117.5" x2="1147.0" y2="117.5" stroke="#F14040" stroke-width="3.4" stroke-linecap="round"/>
<circle cx="1129.8" cy="117.5" r="5.0" fill="#fff" stroke="#F14040" stroke-width="1.3"/>
<text transform="translate(1151.8,123.7) scale(1,1.03)" font-size="21" text-anchor="start" font-weight="bold" font-style="italic" fill="#000" >28 GHz</text>
<line x1="1236.0" y1="117.5" x2="1270.7" y2="117.5" stroke="#1A6FDF" stroke-width="3.4" stroke-linecap="round"/>
<polygon points="1253.3,111.8 1258.6,121.2 1248.1,121.2" fill="#fff" stroke="#1A6FDF" stroke-width="1.3"/>
<text transform="translate(1275.3,123.7) scale(1,1.03)" font-size="21" text-anchor="start" font-weight="bold" font-style="italic" fill="#000" >30 GHz</text>
<line x1="989.8" y1="148.0" x2="1022.8" y2="148.0" stroke="#37AD6B" stroke-width="3.4" stroke-linecap="round"/>
<polygon points="1006.3,153.8 1011.5,144.2 1001.0,144.2" fill="#fff" stroke="#37AD6B" stroke-width="1.3"/>
<text transform="translate(1028.0,154.2) scale(1,1.03)" font-size="21" text-anchor="start" font-weight="bold" font-style="italic" fill="#000" >32 GHz</text>
<line x1="1112.5" y1="148.0" x2="1147.0" y2="148.0" stroke="#B177DE" stroke-width="3.4" stroke-linecap="round"/>
<polygon points="1129.8,142.0 1134.5,148.0 1129.8,154.0 1125.0,148.0" fill="#fff" stroke="#B177DE" stroke-width="1.3"/>
<text transform="translate(1151.8,154.2) scale(1,1.03)" font-size="21" text-anchor="start" font-weight="bold" font-style="italic" fill="#000" >34 GHz</text>
<line x1="1236.0" y1="148.0" x2="1270.7" y2="148.0" stroke="#CC9900" stroke-width="3.4" stroke-linecap="round"/>
<polygon points="1247.6,148.0 1257.1,142.8 1257.1,153.2" fill="#fff" stroke="#CC9900" stroke-width="1.3"/>
<text transform="translate(1275.3,154.2) scale(1,1.03)" font-size="21" text-anchor="start" font-weight="bold" font-style="italic" fill="#000" >36 GHz</text>
<line x1="989.8" y1="179.0" x2="1022.8" y2="179.0" stroke="#00CBCC" stroke-width="3.4" stroke-linecap="round"/>
<polygon points="1012.0,179.0 1002.5,173.8 1002.5,184.2" fill="#fff" stroke="#00CBCC" stroke-width="1.3"/>
<text transform="translate(1028.0,185.2) scale(1,1.03)" font-size="21" text-anchor="start" font-weight="bold" font-style="italic" fill="#000" >38 GHz</text>
<text transform="translate(1113.2,185.2) scale(1,1.03)" font-size="21" text-anchor="start" font-weight="bold" font-style="italic" fill="#000" >Magnitude</text>
<ellipse cx="1060.6" cy="39.5" rx="11" ry="22.5" fill="none" stroke="#0000ff" stroke-width="2" stroke-dasharray="9,3,2,3"/>
<line x1="1061.6" y1="64.0" x2="1094.7" y2="64.0" stroke="#0000ff" stroke-width="2.2" />
<polygon points="1106.7,64.0 1093.7,68.5 1093.7,59.5" fill="#0000ff"/>
<ellipse cx="1060" cy="280" rx="15" ry="80" fill="none" stroke="#0000ff" stroke-width="2" stroke-dasharray="9,3,2,3"/>
<line x1="1060.0" y1="357.0" x2="1027.0" y2="357.0" stroke="#0000ff" stroke-width="2.2" />
<polygon points="1015.0,357.0 1028.0,352.5 1028.0,361.5" fill="#0000ff"/>
<clipPath id="cd"><rect x="845.8" y="587.6" width="541.4000000000001" height="435.19999999999993"/></clipPath><g clip-path="url(#cd)">
<polyline points="845.8,606.7 890.6,610.0 935.4,608.0 980.2,604.0 1025.0,601.0 1069.8,600.0 1114.6,599.4" fill="none" stroke="#515151" stroke-width="3.4" stroke-linejoin="round" stroke-linecap="round" />
<rect x="840.8" y="601.7" width="10.0" height="10.0" fill="#515151" stroke="none"/>
<rect x="885.6" y="605.0" width="10.0" height="10.0" fill="#515151" stroke="none"/>
<rect x="930.4" y="603.0" width="10.0" height="10.0" fill="#515151" stroke="none"/>
<rect x="975.2" y="599.0" width="10.0" height="10.0" fill="#515151" stroke="none"/>
<rect x="1020.0" y="596.0" width="10.0" height="10.0" fill="#515151" stroke="none"/>
<rect x="1064.8" y="595.0" width="10.0" height="10.0" fill="#515151" stroke="none"/>
<rect x="1109.6" y="594.4" width="10.0" height="10.0" fill="#515151" stroke="none"/>
<polyline points="1132.0,600.0 1163.2,603.0 1208.0,609.0 1252.8,626.1 1297.6,664.2 1342.4,717.3 1387.2,719.3" fill="none" stroke="#515151" stroke-width="3.4" stroke-linejoin="round" stroke-linecap="round" />
<rect x="1158.2" y="598.0" width="10.0" height="10.0" fill="#515151" stroke="none"/>
<rect x="1203.0" y="604.0" width="10.0" height="10.0" fill="#515151" stroke="none"/>
<rect x="1247.8" y="621.1" width="10.0" height="10.0" fill="#515151" stroke="none"/>
<rect x="1292.6" y="659.2" width="10.0" height="10.0" fill="#515151" stroke="none"/>
<rect x="1337.4" y="712.3" width="10.0" height="10.0" fill="#515151" stroke="none"/>
<rect x="1382.2" y="714.3" width="10.0" height="10.0" fill="#515151" stroke="none"/>
<polyline points="845.8,609.0 890.6,612.0 935.4,609.0 980.2,604.7 1025.0,601.4 1069.8,600.0 1114.6,600.0" fill="none" stroke="#F14040" stroke-width="3.4" stroke-linejoin="round" stroke-linecap="round" />
<circle cx="845.8" cy="609.0" r="5.0" fill="#F14040" stroke="none"/>
<circle cx="890.6" cy="612.0" r="5.0" fill="#F14040" stroke="none"/>
<circle cx="935.4" cy="609.0" r="5.0" fill="#F14040" stroke="none"/>
<circle cx="980.2" cy="604.7" r="5.0" fill="#F14040" stroke="none"/>
<circle cx="1025.0" cy="601.4" r="5.0" fill="#F14040" stroke="none"/>
<circle cx="1069.8" cy="600.0" r="5.0" fill="#F14040" stroke="none"/>
<circle cx="1114.6" cy="600.0" r="5.0" fill="#F14040" stroke="none"/>
<polyline points="1132.0,600.0 1163.2,603.0 1208.0,609.0 1252.8,626.1 1297.6,664.2 1342.4,717.3 1387.2,719.3" fill="none" stroke="#F14040" stroke-width="3.4" stroke-linejoin="round" stroke-linecap="round" />
<circle cx="1163.2" cy="603.0" r="5.0" fill="#F14040" stroke="none"/>
<circle cx="1208.0" cy="609.0" r="5.0" fill="#F14040" stroke="none"/>
<circle cx="1252.8" cy="626.1" r="5.0" fill="#F14040" stroke="none"/>
<circle cx="1297.6" cy="664.2" r="5.0" fill="#F14040" stroke="none"/>
<circle cx="1342.4" cy="717.3" r="5.0" fill="#F14040" stroke="none"/>
<circle cx="1387.2" cy="719.3" r="5.0" fill="#F14040" stroke="none"/>
<polyline points="845.8,608.7 890.6,612.0 935.4,608.0 980.2,603.4 1025.0,600.6 1069.8,599.4 1114.6,599.4" fill="none" stroke="#1A6FDF" stroke-width="3.4" stroke-linejoin="round" stroke-linecap="round" />
<polygon points="845.8,603.0 851.0,612.5 840.5,612.5" fill="#1A6FDF" stroke="none"/>
<polygon points="890.6,606.2 895.8,615.8 885.3,615.8" fill="#1A6FDF" stroke="none"/>
<polygon points="935.4,602.2 940.6,611.8 930.1,611.8" fill="#1A6FDF" stroke="none"/>
<polygon points="980.2,597.6 985.4,607.1 974.9,607.1" fill="#1A6FDF" stroke="none"/>
<polygon points="1025.0,594.9 1030.2,604.4 1019.8,604.4" fill="#1A6FDF" stroke="none"/>
<polygon points="1069.8,593.6 1075.0,603.1 1064.5,603.1" fill="#1A6FDF" stroke="none"/>
<polygon points="1114.6,593.6 1119.8,603.1 1109.3,603.1" fill="#1A6FDF" stroke="none"/>
<polyline points="1132.0,600.0 1163.2,603.0 1208.0,610.0 1252.8,629.1 1297.6,673.2 1342.4,735.4 1387.2,735.4" fill="none" stroke="#1A6FDF" stroke-width="3.4" stroke-linejoin="round" stroke-linecap="round" />
<polygon points="1163.2,597.2 1168.5,606.8 1158.0,606.8" fill="#1A6FDF" stroke="none"/>
<polygon points="1208.0,604.2 1213.2,613.8 1202.8,613.8" fill="#1A6FDF" stroke="none"/>
<polygon points="1252.8,623.4 1258.0,632.9 1247.5,632.9" fill="#1A6FDF" stroke="none"/>
<polygon points="1297.6,667.5 1302.8,677.0 1292.3,677.0" fill="#1A6FDF" stroke="none"/>
<polygon points="1342.4,729.6 1347.7,739.1 1337.2,739.1" fill="#1A6FDF" stroke="none"/>
<polygon points="1387.2,729.6 1392.5,739.1 1382.0,739.1" fill="#1A6FDF" stroke="none"/>
<polyline points="845.8,615.0 890.6,620.0 935.4,617.0 980.2,612.0 1025.0,609.0 1069.8,609.0 1114.6,606.0" fill="none" stroke="#37AD6B" stroke-width="3.4" stroke-linejoin="round" stroke-linecap="round" />
<polygon points="845.8,620.8 851.0,611.2 840.5,611.2" fill="#37AD6B" stroke="none"/>
<polygon points="890.6,625.8 895.8,616.2 885.3,616.2" fill="#37AD6B" stroke="none"/>
<polygon points="935.4,622.8 940.6,613.2 930.1,613.2" fill="#37AD6B" stroke="none"/>
<polygon points="980.2,617.8 985.4,608.2 974.9,608.2" fill="#37AD6B" stroke="none"/>
<polygon points="1025.0,614.8 1030.2,605.2 1019.8,605.2" fill="#37AD6B" stroke="none"/>
<polygon points="1069.8,614.8 1075.0,605.2 1064.5,605.2" fill="#37AD6B" stroke="none"/>
<polygon points="1114.6,611.8 1119.8,602.2 1109.3,602.2" fill="#37AD6B" stroke="none"/>
<polyline points="1132.0,610.7 1163.2,615.0 1208.0,630.7 1252.8,662.8 1297.6,694.3 1342.4,692.3 1387.2,685.3" fill="none" stroke="#37AD6B" stroke-width="3.4" stroke-linejoin="round" stroke-linecap="round" />
<polygon points="1163.2,620.8 1168.5,611.2 1158.0,611.2" fill="#37AD6B" stroke="none"/>
<polygon points="1208.0,636.5 1213.2,627.0 1202.8,627.0" fill="#37AD6B" stroke="none"/>
<polygon points="1252.8,668.5 1258.0,659.0 1247.5,659.0" fill="#37AD6B" stroke="none"/>
<polygon points="1297.6,700.0 1302.8,690.5 1292.3,690.5" fill="#37AD6B" stroke="none"/>
<polygon points="1342.4,698.0 1347.7,688.5 1337.2,688.5" fill="#37AD6B" stroke="none"/>
<polygon points="1387.2,691.0 1392.5,681.5 1382.0,681.5" fill="#37AD6B" stroke="none"/>
<polyline points="845.8,614.0 890.6,620.0 935.4,618.0 980.2,612.0 1025.0,608.7 1069.8,609.0 1114.6,609.0" fill="none" stroke="#B177DE" stroke-width="3.4" stroke-linejoin="round" stroke-linecap="round" />
<polygon points="845.8,608.0 850.5,614.0 845.8,620.0 841.0,614.0" fill="#B177DE" stroke="none"/>
<polygon points="890.6,614.0 895.3,620.0 890.6,626.0 885.8,620.0" fill="#B177DE" stroke="none"/>
<polygon points="935.4,612.0 940.1,618.0 935.4,624.0 930.6,618.0" fill="#B177DE" stroke="none"/>
<polygon points="980.2,606.0 984.9,612.0 980.2,618.0 975.4,612.0" fill="#B177DE" stroke="none"/>
<polygon points="1025.0,602.7 1029.8,608.7 1025.0,614.7 1020.2,608.7" fill="#B177DE" stroke="none"/>
<polygon points="1069.8,603.0 1074.5,609.0 1069.8,615.0 1065.0,609.0" fill="#B177DE" stroke="none"/>
<polygon points="1114.6,603.0 1119.3,609.0 1114.6,615.0 1109.8,609.0" fill="#B177DE" stroke="none"/>
<polyline points="1132.0,611.0 1163.2,616.7 1208.0,632.7 1252.8,665.2 1297.6,697.3 1342.4,694.9 1387.2,706.3" fill="none" stroke="#B177DE" stroke-width="3.4" stroke-linejoin="round" stroke-linecap="round" />
<polygon points="1163.2,610.7 1168.0,616.7 1163.2,622.7 1158.5,616.7" fill="#B177DE" stroke="none"/>
<polygon points="1208.0,626.7 1212.8,632.7 1208.0,638.7 1203.2,632.7" fill="#B177DE" stroke="none"/>
<polygon points="1252.8,659.2 1257.5,665.2 1252.8,671.2 1248.0,665.2" fill="#B177DE" stroke="none"/>
<polygon points="1297.6,691.3 1302.3,697.3 1297.6,703.3 1292.8,697.3" fill="#B177DE" stroke="none"/>
<polygon points="1342.4,688.9 1347.2,694.9 1342.4,700.9 1337.7,694.9" fill="#B177DE" stroke="none"/>
<polygon points="1387.2,700.3 1392.0,706.3 1387.2,712.3 1382.5,706.3" fill="#B177DE" stroke="none"/>
<polyline points="845.8,622.0 890.6,625.0 935.4,618.0 980.2,613.0 1025.0,611.0 1069.8,611.0 1114.6,613.0" fill="none" stroke="#CC9900" stroke-width="3.4" stroke-linejoin="round" stroke-linecap="round" />
<polygon points="840.0,622.0 849.5,616.8 849.5,627.2" fill="#CC9900" stroke="none"/>
<polygon points="884.8,625.0 894.3,619.8 894.3,630.2" fill="#CC9900" stroke="none"/>
<polygon points="929.6,618.0 939.1,612.8 939.1,623.2" fill="#CC9900" stroke="none"/>
<polygon points="974.4,613.0 983.9,607.8 983.9,618.2" fill="#CC9900" stroke="none"/>
<polygon points="1019.2,611.0 1028.8,605.8 1028.8,616.2" fill="#CC9900" stroke="none"/>
<polygon points="1064.0,611.0 1073.5,605.8 1073.5,616.2" fill="#CC9900" stroke="none"/>
<polygon points="1108.8,613.0 1118.3,607.8 1118.3,618.2" fill="#CC9900" stroke="none"/>
<polyline points="1132.0,618.0 1163.2,629.1 1208.0,674.2 1252.8,697.3 1297.6,722.4 1342.4,775.5 1387.2,670.2" fill="none" stroke="#CC9900" stroke-width="3.4" stroke-linejoin="round" stroke-linecap="round" />
<polygon points="1157.5,629.1 1167.0,623.9 1167.0,634.4" fill="#CC9900" stroke="none"/>
<polygon points="1202.2,674.2 1211.8,669.0 1211.8,679.5" fill="#CC9900" stroke="none"/>
<polygon points="1247.0,697.3 1256.5,692.0 1256.5,702.5" fill="#CC9900" stroke="none"/>
<polygon points="1291.8,722.4 1301.3,717.1 1301.3,727.6" fill="#CC9900" stroke="none"/>
<polygon points="1336.7,775.5 1346.2,770.2 1346.2,780.8" fill="#CC9900" stroke="none"/>
<polygon points="1381.5,670.2 1391.0,665.0 1391.0,675.5" fill="#CC9900" stroke="none"/>
<polyline points="845.8,668.0 890.6,697.1 935.4,729.2 980.2,752.3 1025.0,767.3 1069.8,777.3 1114.6,786.4" fill="none" stroke="#515151" stroke-width="3.4" stroke-linejoin="round" stroke-linecap="round" />
<rect x="840.8" y="663.0" width="10.0" height="10.0" fill="#515151" stroke="none"/>
<rect x="885.6" y="692.1" width="10.0" height="10.0" fill="#515151" stroke="none"/>
<rect x="930.4" y="724.2" width="10.0" height="10.0" fill="#515151" stroke="none"/>
<rect x="975.2" y="747.3" width="10.0" height="10.0" fill="#515151" stroke="none"/>
<rect x="1020.0" y="762.3" width="10.0" height="10.0" fill="#515151" stroke="none"/>
<rect x="1064.8" y="772.3" width="10.0" height="10.0" fill="#515151" stroke="none"/>
<rect x="1109.6" y="781.4" width="10.0" height="10.0" fill="#515151" stroke="none"/>
<polyline points="1132.0,785.7 1163.2,790.4 1208.0,799.0 1252.8,813.3 1297.6,836.7 1342.4,876.5 1387.2,912.2" fill="none" stroke="#515151" stroke-width="3.4" stroke-linejoin="round" stroke-linecap="round" />
<rect x="1158.2" y="785.4" width="10.0" height="10.0" fill="#515151" stroke="none"/>
<rect x="1203.0" y="794.0" width="10.0" height="10.0" fill="#515151" stroke="none"/>
<rect x="1247.8" y="808.3" width="10.0" height="10.0" fill="#515151" stroke="none"/>
<rect x="1292.6" y="831.7" width="10.0" height="10.0" fill="#515151" stroke="none"/>
<rect x="1337.4" y="871.5" width="10.0" height="10.0" fill="#515151" stroke="none"/>
<rect x="1382.2" y="907.2" width="10.0" height="10.0" fill="#515151" stroke="none"/>
<polyline points="845.8,665.0 890.6,695.1 935.4,727.2 980.2,750.3 1025.0,763.3 1069.8,772.3 1114.6,782.3" fill="none" stroke="#F14040" stroke-width="3.4" stroke-linejoin="round" stroke-linecap="round" />
<circle cx="845.8" cy="665.0" r="5.0" fill="#F14040" stroke="none"/>
<circle cx="890.6" cy="695.1" r="5.0" fill="#F14040" stroke="none"/>
<circle cx="935.4" cy="727.2" r="5.0" fill="#F14040" stroke="none"/>
<circle cx="980.2" cy="750.3" r="5.0" fill="#F14040" stroke="none"/>
<circle cx="1025.0" cy="763.3" r="5.0" fill="#F14040" stroke="none"/>
<circle cx="1069.8" cy="772.3" r="5.0" fill="#F14040" stroke="none"/>
<circle cx="1114.6" cy="782.3" r="5.0" fill="#F14040" stroke="none"/>
<polyline points="1132.0,782.7 1163.2,787.1 1208.0,794.9 1252.8,808.2 1297.6,831.6 1342.4,870.4 1387.2,907.1" fill="none" stroke="#F14040" stroke-width="3.4" stroke-linejoin="round" stroke-linecap="round" />
<circle cx="1163.2" cy="787.1" r="5.0" fill="#F14040" stroke="none"/>
<circle cx="1208.0" cy="794.9" r="5.0" fill="#F14040" stroke="none"/>
<circle cx="1252.8" cy="808.2" r="5.0" fill="#F14040" stroke="none"/>
<circle cx="1297.6" cy="831.6" r="5.0" fill="#F14040" stroke="none"/>
<circle cx="1342.4" cy="870.4" r="5.0" fill="#F14040" stroke="none"/>
<circle cx="1387.2" cy="907.1" r="5.0" fill="#F14040" stroke="none"/>
<polyline points="845.8,661.0 890.6,689.1 935.4,721.2 980.2,745.2 1025.0,759.3 1069.8,767.3 1114.6,775.3" fill="none" stroke="#1A6FDF" stroke-width="3.4" stroke-linejoin="round" stroke-linecap="round" />
<polygon points="845.8,655.2 851.0,664.8 840.5,664.8" fill="#1A6FDF" stroke="none"/>
<polygon points="890.6,683.4 895.8,692.9 885.3,692.9" fill="#1A6FDF" stroke="none"/>
<polygon points="935.4,715.5 940.6,725.0 930.1,725.0" fill="#1A6FDF" stroke="none"/>
<polygon points="980.2,739.5 985.4,749.0 974.9,749.0" fill="#1A6FDF" stroke="none"/>
<polygon points="1025.0,753.5 1030.2,763.0 1019.8,763.0" fill="#1A6FDF" stroke="none"/>
<polygon points="1069.8,761.5 1075.0,771.0 1064.5,771.0" fill="#1A6FDF" stroke="none"/>
<polygon points="1114.6,769.5 1119.8,779.0 1109.3,779.0" fill="#1A6FDF" stroke="none"/>
<polyline points="1132.0,777.6 1163.2,780.2 1208.0,787.8 1252.8,806.1 1297.6,828.6 1342.4,863.3 1387.2,895.9" fill="none" stroke="#1A6FDF" stroke-width="3.4" stroke-linejoin="round" stroke-linecap="round" />
<polygon points="1163.2,774.5 1168.5,784.0 1158.0,784.0" fill="#1A6FDF" stroke="none"/>
<polygon points="1208.0,782.0 1213.2,791.5 1202.8,791.5" fill="#1A6FDF" stroke="none"/>
<polygon points="1252.8,800.4 1258.0,809.9 1247.5,809.9" fill="#1A6FDF" stroke="none"/>
<polygon points="1297.6,822.9 1302.8,832.4 1292.3,832.4" fill="#1A6FDF" stroke="none"/>
<polygon points="1342.4,857.5 1347.7,867.0 1337.2,867.0" fill="#1A6FDF" stroke="none"/>
<polygon points="1387.2,890.1 1392.5,899.6 1382.0,899.6" fill="#1A6FDF" stroke="none"/>
<polyline points="845.8,706.1 890.6,741.2 935.4,773.3 980.2,793.4 1025.0,806.4 1069.8,815.4 1114.6,825.5" fill="none" stroke="#37AD6B" stroke-width="3.4" stroke-linejoin="round" stroke-linecap="round" />
<polygon points="845.8,711.9 851.0,702.4 840.5,702.4" fill="#37AD6B" stroke="none"/>
<polygon points="890.6,747.0 895.8,737.5 885.3,737.5" fill="#37AD6B" stroke="none"/>
<polygon points="935.4,779.0 940.6,769.5 930.1,769.5" fill="#37AD6B" stroke="none"/>
<polygon points="980.2,799.1 985.4,789.6 974.9,789.6" fill="#37AD6B" stroke="none"/>
<polygon points="1025.0,812.1 1030.2,802.6 1019.8,802.6" fill="#37AD6B" stroke="none"/>
<polygon points="1069.8,821.1 1075.0,811.6 1064.5,811.6" fill="#37AD6B" stroke="none"/>
<polygon points="1114.6,831.2 1119.8,821.8 1109.3,821.8" fill="#37AD6B" stroke="none"/>
<polyline points="1132.0,826.5 1163.2,833.7 1208.0,850.0 1252.8,873.5 1297.6,904.1 1342.4,940.8 1387.2,958.2" fill="none" stroke="#37AD6B" stroke-width="3.4" stroke-linejoin="round" stroke-linecap="round" />
<polygon points="1163.2,839.5 1168.5,830.0 1158.0,830.0" fill="#37AD6B" stroke="none"/>
<polygon points="1208.0,855.8 1213.2,846.2 1202.8,846.2" fill="#37AD6B" stroke="none"/>
<polygon points="1252.8,879.2 1258.0,869.8 1247.5,869.8" fill="#37AD6B" stroke="none"/>
<polygon points="1297.6,909.9 1302.8,900.4 1292.3,900.4" fill="#37AD6B" stroke="none"/>
<polygon points="1342.4,946.5 1347.7,937.0 1337.2,937.0" fill="#37AD6B" stroke="none"/>
<polygon points="1387.2,964.0 1392.5,954.5 1382.0,954.5" fill="#37AD6B" stroke="none"/>
<polyline points="845.8,703.1 890.6,738.2 935.4,771.3 980.2,790.4 1025.0,803.4 1069.8,812.4 1114.6,821.4" fill="none" stroke="#B177DE" stroke-width="3.4" stroke-linejoin="round" stroke-linecap="round" />
<polygon points="845.8,697.1 850.5,703.1 845.8,709.1 841.0,703.1" fill="#B177DE" stroke="none"/>
<polygon points="890.6,732.2 895.3,738.2 890.6,744.2 885.8,738.2" fill="#B177DE" stroke="none"/>
<polygon points="935.4,765.3 940.1,771.3 935.4,777.3 930.6,771.3" fill="#B177DE" stroke="none"/>
<polygon points="980.2,784.4 984.9,790.4 980.2,796.4 975.4,790.4" fill="#B177DE" stroke="none"/>
<polygon points="1025.0,797.4 1029.8,803.4 1025.0,809.4 1020.2,803.4" fill="#B177DE" stroke="none"/>
<polygon points="1069.8,806.4 1074.5,812.4 1069.8,818.4 1065.0,812.4" fill="#B177DE" stroke="none"/>
<polygon points="1114.6,815.4 1119.3,821.4 1114.6,827.4 1109.8,821.4" fill="#B177DE" stroke="none"/>
<polyline points="1132.0,821.4 1163.2,830.0 1208.0,844.9 1252.8,868.4 1297.6,900.0 1342.4,934.7 1387.2,954.1" fill="none" stroke="#B177DE" stroke-width="3.4" stroke-linejoin="round" stroke-linecap="round" />
<polygon points="1163.2,824.0 1168.0,830.0 1163.2,836.0 1158.5,830.0" fill="#B177DE" stroke="none"/>
<polygon points="1208.0,838.9 1212.8,844.9 1208.0,850.9 1203.2,844.9" fill="#B177DE" stroke="none"/>
<polygon points="1252.8,862.4 1257.5,868.4 1252.8,874.4 1248.0,868.4" fill="#B177DE" stroke="none"/>
<polygon points="1297.6,894.0 1302.3,900.0 1297.6,906.0 1292.8,900.0" fill="#B177DE" stroke="none"/>
<polygon points="1342.4,928.7 1347.2,934.7 1342.4,940.7 1337.7,934.7" fill="#B177DE" stroke="none"/>
<polygon points="1387.2,948.1 1392.0,954.1 1387.2,960.1 1382.5,954.1" fill="#B177DE" stroke="none"/>
<polyline points="845.8,699.1 890.6,739.2 935.4,768.3 980.2,783.3 1025.0,799.4 1069.8,807.4 1114.6,816.4" fill="none" stroke="#CC9900" stroke-width="3.4" stroke-linejoin="round" stroke-linecap="round" />
<polygon points="840.0,699.1 849.5,693.9 849.5,704.4" fill="#CC9900" stroke="none"/>
<polygon points="884.8,739.2 894.3,734.0 894.3,744.5" fill="#CC9900" stroke="none"/>
<polygon points="929.6,768.3 939.1,763.0 939.1,773.5" fill="#CC9900" stroke="none"/>
<polygon points="974.4,783.3 983.9,778.0 983.9,788.5" fill="#CC9900" stroke="none"/>
<polygon points="1019.2,799.4 1028.8,794.1 1028.8,804.6" fill="#CC9900" stroke="none"/>
<polygon points="1064.0,807.4 1073.5,802.1 1073.5,812.6" fill="#CC9900" stroke="none"/>
<polygon points="1108.8,816.4 1118.3,811.1 1118.3,821.6" fill="#CC9900" stroke="none"/>
<polyline points="1132.0,819.0 1163.2,825.5 1208.0,839.8 1252.8,860.2 1297.6,899.0 1342.4,929.6 1387.2,945.9" fill="none" stroke="#CC9900" stroke-width="3.4" stroke-linejoin="round" stroke-linecap="round" />
<polygon points="1157.5,825.5 1167.0,820.2 1167.0,830.8" fill="#CC9900" stroke="none"/>
<polygon points="1202.2,839.8 1211.8,834.5 1211.8,845.0" fill="#CC9900" stroke="none"/>
<polygon points="1247.0,860.2 1256.5,855.0 1256.5,865.5" fill="#CC9900" stroke="none"/>
<polygon points="1291.8,899.0 1301.3,893.8 1301.3,904.2" fill="#CC9900" stroke="none"/>
<polygon points="1336.7,929.6 1346.2,924.4 1346.2,934.9" fill="#CC9900" stroke="none"/>
<polygon points="1381.5,945.9 1391.0,940.6 1391.0,951.1" fill="#CC9900" stroke="none"/>
</g>
<line x1="845.8" y1="587.6" x2="1387.2" y2="587.6" stroke="#000" stroke-width="2.2" />
<line x1="845.8" y1="1022.8" x2="1387.2" y2="1022.8" stroke="#000" stroke-width="2.2" />
<line x1="845.8" y1="586.6" x2="845.8" y2="1023.8" stroke="#444" stroke-width="2.1" />
<line x1="1387.2" y1="586.6" x2="1387.2" y2="1023.8" stroke="#555" stroke-width="2.0" />
<rect x="1123.0" y="584.6" width="9.0" height="440.2" fill="#fff"/>
<line x1="1118.0" y1="1029.8" x2="1126.0" y2="1013.8" stroke="#000" stroke-width="1.8"/>
<line x1="1128.0" y1="1029.8" x2="1136.0" y2="1013.8" stroke="#000" stroke-width="1.8"/>
<line x1="845.8" y1="1022.8" x2="845.8" y2="1030.8" stroke="#000" stroke-width="2" />
<line x1="890.6" y1="1022.8" x2="890.6" y2="1026.8" stroke="#000" stroke-width="2" />
<line x1="935.4" y1="1022.8" x2="935.4" y2="1030.8" stroke="#000" stroke-width="2" />
<line x1="980.2" y1="1022.8" x2="980.2" y2="1026.8" stroke="#000" stroke-width="2" />
<line x1="1025.0" y1="1022.8" x2="1025.0" y2="1030.8" stroke="#000" stroke-width="2" />
<line x1="1069.8" y1="1022.8" x2="1069.8" y2="1026.8" stroke="#000" stroke-width="2" />
<line x1="1114.6" y1="1022.8" x2="1114.6" y2="1030.8" stroke="#000" stroke-width="2" />
<line x1="1163.2" y1="1022.8" x2="1163.2" y2="1026.8" stroke="#000" stroke-width="2" />
<line x1="1208.0" y1="1022.8" x2="1208.0" y2="1030.8" stroke="#000" stroke-width="2" />
<line x1="1252.8" y1="1022.8" x2="1252.8" y2="1026.8" stroke="#000" stroke-width="2" />
<line x1="1297.6" y1="1022.8" x2="1297.6" y2="1030.8" stroke="#000" stroke-width="2" />
<line x1="1342.4" y1="1022.8" x2="1342.4" y2="1026.8" stroke="#000" stroke-width="2" />
<line x1="1387.2" y1="1022.8" x2="1387.2" y2="1030.8" stroke="#000" stroke-width="2" />
<text transform="translate(845.8,1058.5) scale(1,1.09)" font-size="26" text-anchor="middle" font-weight="bold" font-style="normal" fill="#000" >2.4</text>
<text transform="translate(935.4,1058.5) scale(1,1.09)" font-size="26" text-anchor="middle" font-weight="bold" font-style="normal" fill="#000" >3.2</text>
<text transform="translate(1025.0,1058.5) scale(1,1.09)" font-size="26" text-anchor="middle" font-weight="bold" font-style="normal" fill="#000" >4.0</text>
<text transform="translate(1114.6,1058.5) scale(1,1.09)" font-size="26" text-anchor="middle" font-weight="bold" font-style="normal" fill="#000" >4.8(0.4)</text>
<text transform="translate(1208.0,1058.5) scale(1,1.09)" font-size="26" text-anchor="middle" font-weight="bold" font-style="normal" fill="#000" >0.8</text>
<text transform="translate(1297.6,1058.5) scale(1,1.09)" font-size="26" text-anchor="middle" font-weight="bold" font-style="normal" fill="#000" >1.2</text>
<text transform="translate(1387.2,1058.5) scale(1,1.09)" font-size="26" text-anchor="middle" font-weight="bold" font-style="normal" fill="#000" >1.6</text>
<line x1="836.8" y1="613.4" x2="845.8" y2="613.4" stroke="#444" stroke-width="2" />
<text transform="translate(831.6,622.4) scale(1,1.09)" font-size="27.2" text-anchor="end" font-weight="bold" font-style="normal" fill="#4a4a4a" >200</text>
<line x1="841.3" y1="645.4" x2="845.8" y2="645.4" stroke="#444" stroke-width="2" />
<line x1="836.8" y1="677.5" x2="845.8" y2="677.5" stroke="#444" stroke-width="2" />
<text transform="translate(831.6,686.5) scale(1,1.09)" font-size="27.2" text-anchor="end" font-weight="bold" font-style="normal" fill="#4a4a4a" >100</text>
<line x1="841.3" y1="709.5" x2="845.8" y2="709.5" stroke="#444" stroke-width="2" />
<line x1="836.8" y1="741.5" x2="845.8" y2="741.5" stroke="#444" stroke-width="2" />
<text transform="translate(831.6,750.5) scale(1,1.09)" font-size="27.2" text-anchor="end" font-weight="bold" font-style="normal" fill="#4a4a4a" >0</text>
<line x1="841.3" y1="773.5" x2="845.8" y2="773.5" stroke="#444" stroke-width="2" />
<line x1="836.8" y1="805.5" x2="845.8" y2="805.5" stroke="#444" stroke-width="2" />
<text transform="translate(831.6,814.5) scale(1,1.09)" font-size="27.2" text-anchor="end" font-weight="bold" font-style="normal" fill="#4a4a4a" >-100</text>
<line x1="841.3" y1="837.6" x2="845.8" y2="837.6" stroke="#444" stroke-width="2" />
<line x1="836.8" y1="869.6" x2="845.8" y2="869.6" stroke="#444" stroke-width="2" />
<text transform="translate(831.6,878.6) scale(1,1.09)" font-size="27.2" text-anchor="end" font-weight="bold" font-style="normal" fill="#4a4a4a" >-200</text>
<line x1="841.3" y1="901.6" x2="845.8" y2="901.6" stroke="#444" stroke-width="2" />
<line x1="836.8" y1="933.6" x2="845.8" y2="933.6" stroke="#444" stroke-width="2" />
<text transform="translate(831.6,942.6) scale(1,1.09)" font-size="27.2" text-anchor="end" font-weight="bold" font-style="normal" fill="#4a4a4a" >-300</text>
<line x1="841.3" y1="965.7" x2="845.8" y2="965.7" stroke="#444" stroke-width="2" />
<line x1="836.8" y1="997.7" x2="845.8" y2="997.7" stroke="#444" stroke-width="2" />
<text transform="translate(831.6,1006.7) scale(1,1.09)" font-size="27.2" text-anchor="end" font-weight="bold" font-style="normal" fill="#4a4a4a" >-400</text>
<line x1="1387.2" y1="587.7" x2="1396.2" y2="587.7" stroke="#555" stroke-width="2" />
<text transform="translate(1401.4,595.5) scale(1,1.09)" font-size="27.2" text-anchor="start" font-weight="bold" font-style="normal" fill="#4a4a4a" >1.00</text>
<line x1="1387.2" y1="609.5" x2="1391.7" y2="609.5" stroke="#555" stroke-width="2" />
<line x1="1387.2" y1="631.3" x2="1391.7" y2="631.3" stroke="#555" stroke-width="2" />
<line x1="1387.2" y1="653.0" x2="1391.7" y2="653.0" stroke="#555" stroke-width="2" />
<line x1="1387.2" y1="674.8" x2="1396.2" y2="674.8" stroke="#555" stroke-width="2" />
<text transform="translate(1401.4,682.6) scale(1,1.09)" font-size="27.2" text-anchor="start" font-weight="bold" font-style="normal" fill="#4a4a4a" >0.95</text>
<line x1="1387.2" y1="696.6" x2="1391.7" y2="696.6" stroke="#555" stroke-width="2" />
<line x1="1387.2" y1="718.3" x2="1391.7" y2="718.3" stroke="#555" stroke-width="2" />
<line x1="1387.2" y1="740.1" x2="1391.7" y2="740.1" stroke="#555" stroke-width="2" />
<line x1="1387.2" y1="761.9" x2="1396.2" y2="761.9" stroke="#555" stroke-width="2" />
<text transform="translate(1401.4,769.7) scale(1,1.09)" font-size="27.2" text-anchor="start" font-weight="bold" font-style="normal" fill="#4a4a4a" >0.90</text>
<line x1="1387.2" y1="783.7" x2="1391.7" y2="783.7" stroke="#555" stroke-width="2" />
<line x1="1387.2" y1="805.5" x2="1391.7" y2="805.5" stroke="#555" stroke-width="2" />
<line x1="1387.2" y1="827.2" x2="1391.7" y2="827.2" stroke="#555" stroke-width="2" />
<line x1="1387.2" y1="849.0" x2="1396.2" y2="849.0" stroke="#555" stroke-width="2" />
<text transform="translate(1401.4,856.8) scale(1,1.09)" font-size="27.2" text-anchor="start" font-weight="bold" font-style="normal" fill="#4a4a4a" >0.85</text>
<line x1="1387.2" y1="870.8" x2="1391.7" y2="870.8" stroke="#555" stroke-width="2" />
<line x1="1387.2" y1="892.6" x2="1391.7" y2="892.6" stroke="#555" stroke-width="2" />
<line x1="1387.2" y1="914.3" x2="1391.7" y2="914.3" stroke="#555" stroke-width="2" />
<line x1="1387.2" y1="936.1" x2="1396.2" y2="936.1" stroke="#555" stroke-width="2" />
<text transform="translate(1401.4,943.9) scale(1,1.09)" font-size="27.2" text-anchor="start" font-weight="bold" font-style="normal" fill="#4a4a4a" >0.80</text>
<line x1="1387.2" y1="957.9" x2="1391.7" y2="957.9" stroke="#555" stroke-width="2" />
<line x1="1387.2" y1="979.7" x2="1391.7" y2="979.7" stroke="#555" stroke-width="2" />
<line x1="1387.2" y1="1001.4" x2="1391.7" y2="1001.4" stroke="#555" stroke-width="2" />
<line x1="1387.2" y1="1023.2" x2="1396.2" y2="1023.2" stroke="#555" stroke-width="2" />
<text transform="translate(1401.4,1031.0) scale(1,1.09)" font-size="27.2" text-anchor="start" font-weight="bold" font-style="normal" fill="#4a4a4a" >0.75</text>
<text transform="translate(765.8,805.8) rotate(-90) scale(1,1.0)" font-size="36.2" text-anchor="middle" font-weight="bold" font-style="normal" fill="#000" >Phase (deg)</text>
<text transform="translate(1486.3,805.2) rotate(-90) scale(1,1.0)" font-size="37.4" text-anchor="middle" font-weight="bold" font-style="normal" fill="#000" >Magnitude</text>
<text transform="translate(1116.5,1112.6) scale(1,1.0)" font-size="37.6" text-anchor="middle" font-weight="bold" font-style="normal" fill="#000" >ly and lyy (mm)</text>
<text transform="translate(726.0,593.0) scale(1,1.04)" font-size="44.8" text-anchor="start" font-weight="bold" font-style="normal" fill="#000" >(d)</text>
<line x1="868.2" y1="857.2" x2="898.0" y2="857.2" stroke="#515151" stroke-width="3.6" stroke-linecap="round"/>
<rect x="878.0" y="852.2" width="10.0" height="10.0" fill="#515151" stroke="none"/>
<text transform="translate(901.3,863.2) scale(1,1.03)" font-size="23" text-anchor="start" font-weight="bold" font-style="italic" fill="#000" >f = 30 GHz, theta = 0°</text>
<line x1="868.2" y1="884.8" x2="898.0" y2="884.8" stroke="#F14040" stroke-width="3.6" stroke-linecap="round"/>
<circle cx="883.0" cy="884.8" r="5.0" fill="#F14040" stroke="none"/>
<text transform="translate(901.3,890.8) scale(1,1.03)" font-size="23" text-anchor="start" font-weight="bold" font-style="italic" fill="#000" >f = 30 GHz, theta = 15°</text>
<line x1="868.2" y1="912.1" x2="898.0" y2="912.1" stroke="#1A6FDF" stroke-width="3.6" stroke-linecap="round"/>
<polygon points="883.0,906.4 888.2,915.9 877.8,915.9" fill="#1A6FDF" stroke="none"/>
<text transform="translate(901.3,918.1) scale(1,1.03)" font-size="23" text-anchor="start" font-weight="bold" font-style="italic" fill="#000" >f = 30 GHz, theta = 30°</text>
<line x1="868.2" y1="940.0" x2="898.0" y2="940.0" stroke="#37AD6B" stroke-width="3.6" stroke-linecap="round"/>
<polygon points="883.0,945.8 888.2,936.2 877.8,936.2" fill="#37AD6B" stroke="none"/>
<text transform="translate(901.3,946.0) scale(1,1.03)" font-size="23" text-anchor="start" font-weight="bold" font-style="italic" fill="#000" >f = 33 GHz, theta = 0°</text>
<line x1="868.2" y1="967.3" x2="898.0" y2="967.3" stroke="#B177DE" stroke-width="3.6" stroke-linecap="round"/>
<polygon points="883.0,961.3 887.8,967.3 883.0,973.3 878.2,967.3" fill="#B177DE" stroke="none"/>
<text transform="translate(901.3,973.3) scale(1,1.03)" font-size="23" text-anchor="start" font-weight="bold" font-style="italic" fill="#000" >f = 33 GHz, theta = 15°</text>
<line x1="868.2" y1="995.5" x2="898.0" y2="995.5" stroke="#CC9900" stroke-width="3.6" stroke-linecap="round"/>
<polygon points="877.2,995.5 886.8,990.2 886.8,1000.8" fill="#CC9900" stroke="none"/>
<text transform="translate(901.3,1001.5) scale(1,1.03)" font-size="23" text-anchor="start" font-weight="bold" font-style="italic" fill="#000" >f = 33 GHz, theta = 30°</text>
<ellipse cx="1092.7" cy="611" rx="12.5" ry="22" fill="none" stroke="#0000ff" stroke-width="2" stroke-dasharray="9,3,2,3"/>
<line x1="1088.6" y1="635.5" x2="1128.0" y2="635.5" stroke="#0000ff" stroke-width="2.2" />
<polygon points="1140.0,635.5 1127.0,640.0 1127.0,631.0" fill="#0000ff"/>
<ellipse cx="1096.7" cy="785" rx="15" ry="47.5" fill="none" stroke="#0000ff" stroke-width="2" stroke-dasharray="9,3,2,3"/>
<line x1="1096.7" y1="736.6" x2="1053.5" y2="736.6" stroke="#0000ff" stroke-width="2.2" />
<polygon points="1041.5,736.6 1054.5,732.1 1054.5,741.1" fill="#0000ff"/>
<text transform="translate(1110.0,742.3) scale(1,1.0)" font-size="20.3" text-anchor="start" font-weight="bold" font-style="italic" fill="#ff0000" >Max deviation = 12.3°</text>
<line x1="1163.2" y1="752.0" x2="1163.2" y2="764.5" stroke="#000" stroke-width="1.6" />
<polygon points="1163.2,773.5 1159.2,763.5 1167.2,763.5" fill="#000"/>
<line x1="1163.2" y1="815.0" x2="1163.2" y2="802.0" stroke="#000" stroke-width="1.6" />
<polygon points="1163.2,793.0 1167.2,803.0 1159.2,803.0" fill="#000"/>
</svg></body></html>
